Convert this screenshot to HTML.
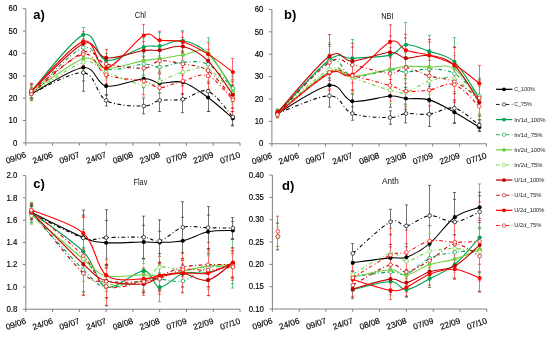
<!DOCTYPE html>
<html><head><meta charset="utf-8"><title>Figure</title>
<style>html,body{margin:0;padding:0;background:#fff}svg{display:block}</style></head>
<body>
<svg width="550" height="339" viewBox="0 0 550 339" font-family="'Liberation Sans', sans-serif">
<rect width="550" height="339" fill="#fff"/>
<g stroke="#808080" stroke-width="1" fill="none">
<path d="M25.8 8.7V142.9"/>
<path d="M25.8 142.9H240"/>
<path d="M22.8 142.9H25.8"/>
<path d="M22.8 120.53H25.8"/>
<path d="M22.8 98.17H25.8"/>
<path d="M22.8 75.8H25.8"/>
<path d="M22.8 53.43H25.8"/>
<path d="M22.8 31.07H25.8"/>
<path d="M22.8 8.7H25.8"/>
<path d="M25.8 142.9V145.7"/>
<path d="M52.58 142.9V145.7"/>
<path d="M79.35 142.9V145.7"/>
<path d="M106.12 142.9V145.7"/>
<path d="M132.9 142.9V145.7"/>
<path d="M159.68 142.9V145.7"/>
<path d="M186.45 142.9V145.7"/>
<path d="M213.23 142.9V145.7"/>
<path d="M240 142.9V145.7"/>
</g>
<g font-size="8.3" fill="#000" stroke="#000" stroke-width="0.15" text-anchor="end">
<text x="17.3" y="145.6" textLength="4.36" lengthAdjust="spacingAndGlyphs">0</text>
<text x="17.3" y="123.23" textLength="8.72" lengthAdjust="spacingAndGlyphs">10</text>
<text x="17.3" y="100.87" textLength="8.72" lengthAdjust="spacingAndGlyphs">20</text>
<text x="17.3" y="78.5" textLength="8.72" lengthAdjust="spacingAndGlyphs">30</text>
<text x="17.3" y="56.13" textLength="8.72" lengthAdjust="spacingAndGlyphs">40</text>
<text x="17.3" y="33.77" textLength="8.72" lengthAdjust="spacingAndGlyphs">50</text>
<text x="17.3" y="11.4" textLength="8.72" lengthAdjust="spacingAndGlyphs">60</text>
</g>
<g font-size="8.3" fill="#000" stroke="#000" stroke-width="0.15" text-anchor="end">
<text transform="translate(26.6 157) rotate(-19)" textLength="20.8" lengthAdjust="spacingAndGlyphs">09/06</text>
<text transform="translate(53.38 157) rotate(-19)" textLength="20.8" lengthAdjust="spacingAndGlyphs">24/06</text>
<text transform="translate(80.15 157) rotate(-19)" textLength="20.8" lengthAdjust="spacingAndGlyphs">09/07</text>
<text transform="translate(106.92 157) rotate(-19)" textLength="20.8" lengthAdjust="spacingAndGlyphs">24/07</text>
<text transform="translate(133.7 157) rotate(-19)" textLength="20.8" lengthAdjust="spacingAndGlyphs">08/08</text>
<text transform="translate(160.48 157) rotate(-19)" textLength="20.8" lengthAdjust="spacingAndGlyphs">23/08</text>
<text transform="translate(187.25 157) rotate(-19)" textLength="20.8" lengthAdjust="spacingAndGlyphs">07/09</text>
<text transform="translate(214.03 157) rotate(-19)" textLength="20.8" lengthAdjust="spacingAndGlyphs">22/09</text>
<text transform="translate(240.8 157) rotate(-19)" textLength="20.8" lengthAdjust="spacingAndGlyphs">07/10</text>
</g>
<text x="140.4" y="18.3" font-size="8.4" text-anchor="middle" fill="#111" textLength="11.1" lengthAdjust="spacingAndGlyphs">Chl</text>
<text x="33.3" y="18.6" font-size="13" font-weight="bold" fill="#000">a)</text>
<path d="M31.5 99.28V100.63M31.5 98.84V99.28M29.9 84.75H33.1M29.9 98.17H33.1M29.9 87.21H33.1M29.9 100.63H33.1" stroke="#c00000" stroke-width="0.7" stroke-opacity="0.85" fill="none"/>
<path d="M31.5 98.39V98.84M31.5 98.17V98.39M31.5 97.72V98.17M31.5 89.44V97.72M31.5 89.22V89.44M31.5 88.1V89.22M31.5 87.21V88.1M31.5 86.98V87.21M31.5 84.75V86.98M31.5 84.3V84.75M31.5 83.18V84.3M29.9 83.18H33.1M29.9 98.84H33.1M29.9 84.3H33.1M29.9 97.72H33.1" stroke="#ff0000" stroke-width="0.7" stroke-opacity="0.85" fill="none"/>
<path d="M29.9 89.44H33.1M29.9 98.39H33.1M29.9 89.22H33.1M29.9 98.17H33.1" stroke="#303030" stroke-width="0.8" stroke-opacity="0.85" fill="none"/>
<path d="M29.9 84.75H33.1M29.9 98.17H33.1M29.9 88.1H33.1M29.9 99.28H33.1" stroke="#00a050" stroke-width="0.7" stroke-opacity="0.85" fill="none"/>
<path d="M29.9 86.98H33.1M29.9 98.17H33.1M29.9 88.1H33.1M29.9 99.28H33.1" stroke="#70d040" stroke-width="0.7" stroke-opacity="0.85" fill="none"/>
<path d="M83.5 80.94V91.23M83.5 71.33V80.94M81.9 54.1H85.1M81.9 80.94H85.1M81.9 54.1H85.1M81.9 91.23H85.1" stroke="#303030" stroke-width="0.8" stroke-opacity="0.85" fill="none"/>
<path d="M83.5 67.75V71.33M83.5 65.51V67.75M81.9 49.85H85.1M81.9 67.75H85.1M81.9 53.43H85.1M81.9 71.33H85.1" stroke="#70d040" stroke-width="0.7" stroke-opacity="0.85" fill="none"/>
<path d="M83.5 61.26V65.51M83.5 56.56V61.26M83.5 54.1V56.56M83.5 53.43V54.1M83.5 52.76V53.43M83.5 50.97V52.76M83.5 49.85V50.97M83.5 43.37V49.85M83.5 43.14V43.37M83.5 42.25V43.14M83.5 38.67V42.25M83.5 34.87V38.67M83.5 31.74V34.87M81.9 31.74H85.1M81.9 50.97H85.1M81.9 43.14H85.1M81.9 65.51H85.1" stroke="#ff0000" stroke-width="0.7" stroke-opacity="0.85" fill="none"/>
<path d="M83.5 27.49V31.74M81.9 27.49H85.1M81.9 42.25H85.1M81.9 38.67H85.1M81.9 56.56H85.1" stroke="#00a050" stroke-width="0.7" stroke-opacity="0.85" fill="none"/>
<path d="M81.9 34.87H85.1M81.9 52.76H85.1M81.9 43.37H85.1M81.9 61.26H85.1" stroke="#c00000" stroke-width="0.7" stroke-opacity="0.85" fill="none"/>
<path d="M106.5 95.04V106M106.5 94.81V95.04M106.5 83.63V94.81M104.9 77.14H108.1M104.9 95.04H108.1M104.9 94.81H108.1M104.9 106H108.1" stroke="#303030" stroke-width="0.8" stroke-opacity="0.85" fill="none"/>
<path d="M106.5 78.93V83.63M106.5 77.14V78.93M106.5 75.8V77.14M106.5 75.13V75.8M106.5 74.91V75.13M106.5 70.66V74.91M106.5 67.08V70.66M106.5 66.41V67.08M106.5 65.73V66.41M106.5 65.51V65.73M106.5 62.38V65.51M106.5 61.71V62.38M106.5 61.49V61.71M104.9 61.49H108.1M104.9 74.91H108.1M104.9 65.73H108.1M104.9 83.63H108.1" stroke="#ff0000" stroke-width="0.7" stroke-opacity="0.85" fill="none"/>
<path d="M106.5 57.24V61.49M106.5 53.66V57.24M106.5 49.41V53.66M104.9 49.41H108.1M104.9 66.41H108.1M104.9 57.24H108.1M104.9 70.66H108.1" stroke="#c00000" stroke-width="0.7" stroke-opacity="0.85" fill="none"/>
<path d="M104.9 53.66H108.1M104.9 67.08H108.1M104.9 62.38H108.1M104.9 75.8H108.1" stroke="#00a050" stroke-width="0.7" stroke-opacity="0.85" fill="none"/>
<path d="M104.9 61.71H108.1M104.9 75.13H108.1M104.9 65.51H108.1M104.9 78.93H108.1" stroke="#70d040" stroke-width="0.7" stroke-opacity="0.85" fill="none"/>
<path d="M143.5 98.17V113.82M141.9 69.76H145.1M141.9 87.65H145.1M141.9 98.17H145.1M141.9 113.82H145.1" stroke="#303030" stroke-width="0.8" stroke-opacity="0.85" fill="none"/>
<path d="M143.5 94.59V96.6M141.9 51.64H145.1M141.9 69.54H145.1M141.9 74.23H145.1M141.9 96.6H145.1" stroke="#70d040" stroke-width="0.7" stroke-opacity="0.85" fill="none"/>
<path d="M143.5 87.65V94.59M143.5 79.38V87.65M143.5 75.35V79.38M143.5 74.23V75.35M143.5 69.76V74.23M143.5 69.54V69.76M143.5 67.75V69.54M143.5 41.58V46.72M143.5 38V41.58M143.5 24.36V38M141.9 24.36H145.1M141.9 46.72H145.1M141.9 67.75H145.1M141.9 94.59H145.1" stroke="#ff0000" stroke-width="0.7" stroke-opacity="0.85" fill="none"/>
<path d="M143.5 59.47V67.75M143.5 57.01V59.47M143.5 55.89V57.01M143.5 52.99V55.89M143.5 51.64V52.99M143.5 46.72V51.64M141.9 41.58H145.1M141.9 59.47H145.1M141.9 57.01H145.1M141.9 79.38H145.1" stroke="#c00000" stroke-width="0.7" stroke-opacity="0.85" fill="none"/>
<path d="M141.9 38H145.1M141.9 55.89H145.1M141.9 52.99H145.1M141.9 75.35H145.1" stroke="#00a050" stroke-width="0.7" stroke-opacity="0.85" fill="none"/>
<path d="M159.5 101.07V111.59M157.9 73.12H161.1M157.9 93.25H161.1M157.9 89.22H161.1M157.9 111.59H161.1" stroke="#303030" stroke-width="0.8" stroke-opacity="0.85" fill="none"/>
<path d="M159.5 93.25V101.07M159.5 92.57V93.25M159.5 89.22V92.57M159.5 78.26V89.22M159.5 74.23V78.26M159.5 41.36V49.18M159.5 32.63V41.36M159.5 31.29V32.63M157.9 31.29H161.1M157.9 49.18H161.1M157.9 74.23H161.1M157.9 101.07H161.1" stroke="#ff0000" stroke-width="0.7" stroke-opacity="0.85" fill="none"/>
<path d="M159.5 73.12V74.23M159.5 72V73.12M157.9 49.85H161.1M157.9 67.75H161.1M157.9 70.21H161.1M157.9 92.57H161.1" stroke="#70d040" stroke-width="0.7" stroke-opacity="0.85" fill="none"/>
<path d="M159.5 70.21V72M159.5 67.75V70.21M159.5 59.47V67.75M159.5 59.25V59.47M159.5 55.89V59.25M159.5 49.85V55.89M159.5 49.63V49.85M159.5 49.18V49.63M157.9 41.36H161.1M157.9 59.25H161.1M157.9 49.63H161.1M157.9 72H161.1" stroke="#c00000" stroke-width="0.7" stroke-opacity="0.85" fill="none"/>
<path d="M157.9 32.63H161.1M157.9 59.47H161.1M157.9 55.89H161.1M157.9 78.26H161.1" stroke="#00a050" stroke-width="0.7" stroke-opacity="0.85" fill="none"/>
<path d="M182.5 94.36V112.7M180.9 71.1H184.1M180.9 93.47H184.1M180.9 85.87H184.1M180.9 112.7H184.1" stroke="#303030" stroke-width="0.8" stroke-opacity="0.85" fill="none"/>
<path d="M182.5 93.47V94.36M182.5 85.87V93.47M182.5 83.18V85.87M182.5 75.13V83.18M182.5 73.56V75.13M182.5 71.1V73.56M182.5 67.52V71.1M182.5 51.2V52.09M182.5 50.75V51.2M182.5 46.05V50.75M182.5 37.55V46.05M182.5 31.96V37.55M180.9 31.96H184.1M180.9 52.09H184.1M180.9 67.52H184.1M180.9 94.36H184.1" stroke="#ff0000" stroke-width="0.7" stroke-opacity="0.85" fill="none"/>
<path d="M182.5 63.95V67.52M182.5 60.81V63.95M182.5 55.45V60.81M182.5 52.76V55.45M182.5 52.09V52.76M180.9 37.55H184.1M180.9 55.45H184.1M180.9 52.76H184.1M180.9 75.13H184.1" stroke="#c00000" stroke-width="0.7" stroke-opacity="0.85" fill="none"/>
<path d="M182.5 30.62V31.96M180.9 30.62H184.1M180.9 50.75H184.1M180.9 51.2H184.1M180.9 73.56H184.1" stroke="#00a050" stroke-width="0.7" stroke-opacity="0.85" fill="none"/>
<path d="M180.9 46.05H184.1M180.9 63.95H184.1M180.9 60.81H184.1M180.9 83.18H184.1" stroke="#70d040" stroke-width="0.7" stroke-opacity="0.85" fill="none"/>
<path d="M208.5 111.36V111.59M208.5 89.22V111.36M206.9 83.4H210.1M206.9 111.59H210.1M206.9 71.1H210.1M206.9 111.36H210.1" stroke="#303030" stroke-width="0.8" stroke-opacity="0.85" fill="none"/>
<path d="M208.5 83.4V89.22M208.5 81.84V83.4M208.5 80.27V81.84M208.5 75.58V80.27M208.5 72V75.58M208.5 71.1V72M208.5 69.09V71.1M208.5 65.29V69.09M208.5 63.95V65.29M208.5 62.38V63.95M208.5 59.47V62.38M208.5 57.91V59.47M208.5 53.21V57.91M208.5 49.63V53.21M208.5 42.92V49.63M206.9 42.92H210.1M206.9 65.29H210.1M206.9 62.38H210.1M206.9 89.22H210.1" stroke="#ff0000" stroke-width="0.7" stroke-opacity="0.85" fill="none"/>
<path d="M208.5 41.58V42.92M206.9 41.58H210.1M206.9 63.95H210.1M206.9 57.91H210.1M206.9 80.27H210.1" stroke="#70d040" stroke-width="0.7" stroke-opacity="0.85" fill="none"/>
<path d="M208.5 37.78V41.58M206.9 37.78H210.1M206.9 69.09H210.1M206.9 53.21H210.1M206.9 75.58H210.1" stroke="#00a050" stroke-width="0.7" stroke-opacity="0.85" fill="none"/>
<path d="M206.9 49.63H210.1M206.9 72H210.1M206.9 59.47H210.1M206.9 81.84H210.1" stroke="#c00000" stroke-width="0.7" stroke-opacity="0.85" fill="none"/>
<path d="M232.5 125.01V125.9M232.5 119.86V125.01M230.9 111.59H234.1M230.9 125.01H234.1M230.9 108.01H234.1M230.9 125.9H234.1" stroke="#303030" stroke-width="0.8" stroke-opacity="0.85" fill="none"/>
<path d="M232.5 111.59V119.86M232.5 108.23V111.59M232.5 108.01V108.23M232.5 104.88V108.01M232.5 102.64V104.88M232.5 101.97V102.64M232.5 99.51V101.97M232.5 85.42V99.51M232.5 84.75V85.42M232.5 82.51V84.75M232.5 81.39V82.51M232.5 80.27V81.39M232.5 79.6V80.27M232.5 77.14V79.6M232.5 75.13V77.14M232.5 58.58V75.13M230.9 58.58H234.1M230.9 85.42H234.1M230.9 79.6H234.1M230.9 119.86H234.1" stroke="#ff0000" stroke-width="0.7" stroke-opacity="0.85" fill="none"/>
<path d="M230.9 75.13H234.1M230.9 101.97H234.1M230.9 77.14H234.1M230.9 99.51H234.1" stroke="#00a050" stroke-width="0.7" stroke-opacity="0.85" fill="none"/>
<path d="M230.9 80.27H234.1M230.9 102.64H234.1M230.9 82.51H234.1M230.9 104.88H234.1" stroke="#70d040" stroke-width="0.7" stroke-opacity="0.85" fill="none"/>
<path d="M230.9 81.39H234.1M230.9 108.23H234.1M230.9 84.75H234.1M230.9 111.59H234.1" stroke="#c00000" stroke-width="0.7" stroke-opacity="0.85" fill="none"/>
<path d="M31.33 93.92C39.99 89.52 70.81 68.83 83.28 67.52C95.74 66.22 96.04 84.22 106.12 86.09C116.21 87.95 134.86 79.19 143.79 78.71C152.71 78.22 153.16 82.58 159.68 83.18C166.19 83.78 174.82 79.9 182.88 82.29C190.94 84.67 199.72 91.49 208.05 97.5C216.38 103.5 228.72 114.83 232.86 118.3" stroke="#000000" stroke-width="1.1" fill="none" stroke-linejoin="round"/>
<circle cx="31.33" cy="93.92" r="2.05" fill="#000000"/>
<circle cx="83.28" cy="67.52" r="2.05" fill="#000000"/>
<circle cx="106.12" cy="86.09" r="2.05" fill="#000000"/>
<circle cx="143.79" cy="78.71" r="2.05" fill="#000000"/>
<circle cx="159.68" cy="83.18" r="2.05" fill="#000000"/>
<circle cx="182.88" cy="82.29" r="2.05" fill="#000000"/>
<circle cx="208.05" cy="97.5" r="2.05" fill="#000000"/>
<circle cx="232.86" cy="118.3" r="2.05" fill="#000000"/>
<path d="M31.33 93.69C39.99 90.19 70.81 71.55 83.28 72.67C95.74 73.79 96.04 94.85 106.12 100.4C116.21 105.96 134.86 106 143.79 106C152.71 106 153.16 101.52 159.68 100.4C166.19 99.28 174.82 100.81 182.88 99.28C190.94 97.76 199.72 88.29 208.05 91.23C216.38 94.18 228.72 112.67 232.86 116.95" stroke="#000000" stroke-width="1.1" fill="none" stroke-dasharray="3.7 2.5 0.9 2.5"/>
<circle cx="31.33" cy="93.69" r="1.85" fill="#fff" stroke="#000000" stroke-width="0.7"/>
<circle cx="83.28" cy="72.67" r="1.85" fill="#fff" stroke="#000000" stroke-width="0.7"/>
<circle cx="106.12" cy="100.4" r="1.85" fill="#fff" stroke="#000000" stroke-width="0.7"/>
<circle cx="143.79" cy="106" r="1.85" fill="#fff" stroke="#000000" stroke-width="0.7"/>
<circle cx="159.68" cy="100.4" r="1.85" fill="#fff" stroke="#000000" stroke-width="0.7"/>
<circle cx="182.88" cy="99.28" r="1.85" fill="#fff" stroke="#000000" stroke-width="0.7"/>
<circle cx="208.05" cy="91.23" r="1.85" fill="#fff" stroke="#000000" stroke-width="0.7"/>
<circle cx="232.86" cy="116.95" r="1.85" fill="#fff" stroke="#000000" stroke-width="0.7"/>
<path d="M31.33 91.46C39.99 82.03 70.81 40.05 83.28 34.87C95.74 29.69 96.04 58.35 106.12 60.37C116.21 62.38 134.86 49.33 143.79 46.95C152.71 44.56 153.16 47.1 159.68 46.05C166.19 45.01 174.82 39.45 182.88 40.68C190.94 41.91 199.72 45.46 208.05 53.43C216.38 61.41 228.72 82.7 232.86 88.55" stroke="#00a050" stroke-width="1.1" fill="none" stroke-linejoin="round"/>
<circle cx="31.33" cy="91.46" r="2.05" fill="#00a050"/>
<circle cx="83.28" cy="34.87" r="2.05" fill="#00a050"/>
<circle cx="106.12" cy="60.37" r="2.05" fill="#00a050"/>
<circle cx="143.79" cy="46.95" r="2.05" fill="#00a050"/>
<circle cx="159.68" cy="46.05" r="2.05" fill="#00a050"/>
<circle cx="182.88" cy="40.68" r="2.05" fill="#00a050"/>
<circle cx="208.05" cy="53.43" r="2.05" fill="#00a050"/>
<circle cx="232.86" cy="88.55" r="2.05" fill="#00a050"/>
<path d="M31.33 93.69C39.99 86.01 70.81 51.72 83.28 47.62C95.74 43.52 96.04 66.33 106.12 69.09C116.21 71.85 134.86 64.5 143.79 64.17C152.71 63.83 153.16 67.38 159.68 67.08C166.19 66.78 174.82 62.83 182.88 62.38C190.94 61.93 199.72 60.07 208.05 64.39C216.38 68.72 228.72 84.34 232.86 88.33" stroke="#00a050" stroke-width="1.1" fill="none" stroke-dasharray="3.7 2.5 0.9 2.5"/>
<circle cx="31.33" cy="93.69" r="1.85" fill="#fff" stroke="#00a050" stroke-width="0.7"/>
<circle cx="83.28" cy="47.62" r="1.85" fill="#fff" stroke="#00a050" stroke-width="0.7"/>
<circle cx="106.12" cy="69.09" r="1.85" fill="#fff" stroke="#00a050" stroke-width="0.7"/>
<circle cx="143.79" cy="64.17" r="1.85" fill="#fff" stroke="#00a050" stroke-width="0.7"/>
<circle cx="159.68" cy="67.08" r="1.85" fill="#fff" stroke="#00a050" stroke-width="0.7"/>
<circle cx="182.88" cy="62.38" r="1.85" fill="#fff" stroke="#00a050" stroke-width="0.7"/>
<circle cx="208.05" cy="64.39" r="1.85" fill="#fff" stroke="#00a050" stroke-width="0.7"/>
<circle cx="232.86" cy="88.33" r="1.85" fill="#fff" stroke="#00a050" stroke-width="0.7"/>
<path d="M31.33 92.57C39.99 86.95 70.81 62.83 83.28 58.8C95.74 54.78 96.04 68.12 106.12 68.42C116.21 68.72 134.86 62.19 143.79 60.59C152.71 58.99 153.16 59.73 159.68 58.8C166.19 57.87 174.82 56.01 182.88 55C190.94 53.99 199.72 46.69 208.05 52.76C216.38 58.84 228.72 85.01 232.86 91.46" stroke="#70d040" stroke-width="1.1" fill="none" stroke-linejoin="round"/>
<circle cx="31.33" cy="92.57" r="2.05" fill="#70d040"/>
<circle cx="83.28" cy="58.8" r="2.05" fill="#70d040"/>
<circle cx="106.12" cy="68.42" r="2.05" fill="#70d040"/>
<circle cx="143.79" cy="60.59" r="2.05" fill="#70d040"/>
<circle cx="159.68" cy="58.8" r="2.05" fill="#70d040"/>
<circle cx="182.88" cy="55" r="2.05" fill="#70d040"/>
<circle cx="208.05" cy="52.76" r="2.05" fill="#70d040"/>
<circle cx="232.86" cy="91.46" r="2.05" fill="#70d040"/>
<path d="M31.33 93.69C39.99 88.47 70.81 65.96 83.28 62.38C95.74 58.8 96.04 68.38 106.12 72.22C116.21 76.06 134.86 83.89 143.79 85.42C152.71 86.95 153.16 83.63 159.68 81.39C166.19 79.16 174.82 74.05 182.88 72C190.94 69.95 199.72 65.47 208.05 69.09C216.38 72.71 228.72 89.59 232.86 93.69" stroke="#70d040" stroke-width="1.1" fill="none" stroke-dasharray="3.7 2.5 0.9 2.5"/>
<circle cx="31.33" cy="93.69" r="1.85" fill="#fff" stroke="#70d040" stroke-width="0.7"/>
<circle cx="83.28" cy="62.38" r="1.85" fill="#fff" stroke="#70d040" stroke-width="0.7"/>
<circle cx="106.12" cy="72.22" r="1.85" fill="#fff" stroke="#70d040" stroke-width="0.7"/>
<circle cx="143.79" cy="85.42" r="1.85" fill="#fff" stroke="#70d040" stroke-width="0.7"/>
<circle cx="159.68" cy="81.39" r="1.85" fill="#fff" stroke="#70d040" stroke-width="0.7"/>
<circle cx="182.88" cy="72" r="1.85" fill="#fff" stroke="#70d040" stroke-width="0.7"/>
<circle cx="208.05" cy="69.09" r="1.85" fill="#fff" stroke="#70d040" stroke-width="0.7"/>
<circle cx="232.86" cy="93.69" r="1.85" fill="#fff" stroke="#70d040" stroke-width="0.7"/>
<path d="M31.33 91.46C39.99 83.52 70.81 49.41 83.28 43.82C95.74 38.22 96.04 56.79 106.12 57.91C116.21 59.02 134.86 51.79 143.79 50.53C152.71 49.26 153.16 50.97 159.68 50.3C166.19 49.63 174.82 44.75 182.88 46.5C190.94 48.25 199.72 52.76 208.05 60.81C216.38 68.87 228.72 89.15 232.86 94.81" stroke="#c00000" stroke-width="1.1" fill="none" stroke-linejoin="round"/>
<circle cx="31.33" cy="91.46" r="2.05" fill="#c00000"/>
<circle cx="83.28" cy="43.82" r="2.05" fill="#c00000"/>
<circle cx="106.12" cy="57.91" r="2.05" fill="#c00000"/>
<circle cx="143.79" cy="50.53" r="2.05" fill="#c00000"/>
<circle cx="159.68" cy="50.3" r="2.05" fill="#c00000"/>
<circle cx="182.88" cy="46.5" r="2.05" fill="#c00000"/>
<circle cx="208.05" cy="60.81" r="2.05" fill="#c00000"/>
<circle cx="232.86" cy="94.81" r="2.05" fill="#c00000"/>
<path d="M31.33 93.92C39.99 86.98 70.81 57.31 83.28 52.31C95.74 47.32 96.04 61.3 106.12 63.95C116.21 66.59 134.86 68.72 143.79 68.2C152.71 67.67 153.16 61.52 159.68 60.81C166.19 60.11 174.82 62.31 182.88 63.95C190.94 65.59 199.72 64.95 208.05 70.66C216.38 76.36 228.72 93.58 232.86 98.17" stroke="#c00000" stroke-width="1.1" fill="none" stroke-dasharray="3.7 2.5 0.9 2.5"/>
<circle cx="31.33" cy="93.92" r="1.85" fill="#fff" stroke="#c00000" stroke-width="0.7"/>
<circle cx="83.28" cy="52.31" r="1.85" fill="#fff" stroke="#c00000" stroke-width="0.7"/>
<circle cx="106.12" cy="63.95" r="1.85" fill="#fff" stroke="#c00000" stroke-width="0.7"/>
<circle cx="143.79" cy="68.2" r="1.85" fill="#fff" stroke="#c00000" stroke-width="0.7"/>
<circle cx="159.68" cy="60.81" r="1.85" fill="#fff" stroke="#c00000" stroke-width="0.7"/>
<circle cx="182.88" cy="63.95" r="1.85" fill="#fff" stroke="#c00000" stroke-width="0.7"/>
<circle cx="208.05" cy="70.66" r="1.85" fill="#fff" stroke="#c00000" stroke-width="0.7"/>
<circle cx="232.86" cy="98.17" r="1.85" fill="#fff" stroke="#c00000" stroke-width="0.7"/>
<path d="M31.33 91.01C39.99 82.73 70.81 45.16 83.28 41.36C95.74 37.55 96.04 69.16 106.12 68.2C116.21 67.23 134.86 40.2 143.79 35.54C152.71 30.88 153.16 39.16 159.68 40.24C166.19 41.32 174.82 39.72 182.88 42.03C190.94 44.34 199.72 49.11 208.05 54.1C216.38 59.1 228.72 69.02 232.86 72" stroke="#ff0000" stroke-width="1.1" fill="none" stroke-linejoin="round"/>
<circle cx="31.33" cy="91.01" r="2.05" fill="#ff0000"/>
<circle cx="83.28" cy="41.36" r="2.05" fill="#ff0000"/>
<circle cx="106.12" cy="68.2" r="2.05" fill="#ff0000"/>
<circle cx="143.79" cy="35.54" r="2.05" fill="#ff0000"/>
<circle cx="159.68" cy="40.24" r="2.05" fill="#ff0000"/>
<circle cx="182.88" cy="42.03" r="2.05" fill="#ff0000"/>
<circle cx="208.05" cy="54.1" r="2.05" fill="#ff0000"/>
<circle cx="232.86" cy="72" r="2.05" fill="#ff0000"/>
<path d="M31.33 91.01C39.99 84.9 70.81 57.05 83.28 54.33C95.74 51.61 96.04 70.21 106.12 74.68C116.21 79.16 134.86 79.01 143.79 81.17C152.71 83.33 153.16 87.69 159.68 87.65C166.19 87.62 174.82 82.92 182.88 80.94C190.94 78.97 199.72 72.67 208.05 75.8C216.38 78.93 228.72 95.74 232.86 99.73" stroke="#ff0000" stroke-width="1.1" fill="none" stroke-dasharray="3.7 2.5 0.9 2.5"/>
<circle cx="31.33" cy="91.01" r="1.85" fill="#fff" stroke="#ff0000" stroke-width="0.7"/>
<circle cx="83.28" cy="54.33" r="1.85" fill="#fff" stroke="#ff0000" stroke-width="0.7"/>
<circle cx="106.12" cy="74.68" r="1.85" fill="#fff" stroke="#ff0000" stroke-width="0.7"/>
<circle cx="143.79" cy="81.17" r="1.85" fill="#fff" stroke="#ff0000" stroke-width="0.7"/>
<circle cx="159.68" cy="87.65" r="1.85" fill="#fff" stroke="#ff0000" stroke-width="0.7"/>
<circle cx="182.88" cy="80.94" r="1.85" fill="#fff" stroke="#ff0000" stroke-width="0.7"/>
<circle cx="208.05" cy="75.8" r="1.85" fill="#fff" stroke="#ff0000" stroke-width="0.7"/>
<circle cx="232.86" cy="99.73" r="1.85" fill="#fff" stroke="#ff0000" stroke-width="0.7"/>
<g stroke="#808080" stroke-width="1" fill="none">
<path d="M271.9 9.45V143.75"/>
<path d="M271.9 143.75H486.4"/>
<path d="M268.9 143.75H271.9"/>
<path d="M268.9 121.37H271.9"/>
<path d="M268.9 98.98H271.9"/>
<path d="M268.9 76.6H271.9"/>
<path d="M268.9 54.22H271.9"/>
<path d="M268.9 31.83H271.9"/>
<path d="M268.9 9.45H271.9"/>
<path d="M271.9 143.75V146.55"/>
<path d="M298.71 143.75V146.55"/>
<path d="M325.52 143.75V146.55"/>
<path d="M352.34 143.75V146.55"/>
<path d="M379.15 143.75V146.55"/>
<path d="M405.96 143.75V146.55"/>
<path d="M432.77 143.75V146.55"/>
<path d="M459.59 143.75V146.55"/>
<path d="M486.4 143.75V146.55"/>
</g>
<g font-size="8.3" fill="#000" stroke="#000" stroke-width="0.15" text-anchor="end">
<text x="263.4" y="146.45" textLength="4.36" lengthAdjust="spacingAndGlyphs">0</text>
<text x="263.4" y="124.07" textLength="8.72" lengthAdjust="spacingAndGlyphs">10</text>
<text x="263.4" y="101.68" textLength="8.72" lengthAdjust="spacingAndGlyphs">20</text>
<text x="263.4" y="79.3" textLength="8.72" lengthAdjust="spacingAndGlyphs">30</text>
<text x="263.4" y="56.92" textLength="8.72" lengthAdjust="spacingAndGlyphs">40</text>
<text x="263.4" y="34.53" textLength="8.72" lengthAdjust="spacingAndGlyphs">50</text>
<text x="263.4" y="12.15" textLength="8.72" lengthAdjust="spacingAndGlyphs">60</text>
</g>
<g font-size="8.3" fill="#000" stroke="#000" stroke-width="0.15" text-anchor="end">
<text transform="translate(272.7 157.85) rotate(-19)" textLength="20.8" lengthAdjust="spacingAndGlyphs">09/06</text>
<text transform="translate(299.51 157.85) rotate(-19)" textLength="20.8" lengthAdjust="spacingAndGlyphs">24/06</text>
<text transform="translate(326.32 157.85) rotate(-19)" textLength="20.8" lengthAdjust="spacingAndGlyphs">09/07</text>
<text transform="translate(353.14 157.85) rotate(-19)" textLength="20.8" lengthAdjust="spacingAndGlyphs">24/07</text>
<text transform="translate(379.95 157.85) rotate(-19)" textLength="20.8" lengthAdjust="spacingAndGlyphs">08/08</text>
<text transform="translate(406.76 157.85) rotate(-19)" textLength="20.8" lengthAdjust="spacingAndGlyphs">23/08</text>
<text transform="translate(433.57 157.85) rotate(-19)" textLength="20.8" lengthAdjust="spacingAndGlyphs">07/09</text>
<text transform="translate(460.39 157.85) rotate(-19)" textLength="20.8" lengthAdjust="spacingAndGlyphs">22/09</text>
<text transform="translate(487.2 157.85) rotate(-19)" textLength="20.8" lengthAdjust="spacingAndGlyphs">07/10</text>
</g>
<text x="387.4" y="18.6" font-size="8.4" text-anchor="middle" fill="#111" textLength="12.4" lengthAdjust="spacingAndGlyphs">NBI</text>
<text x="284" y="19.4" font-size="13" font-weight="bold" fill="#000">b)</text>
<path d="M277.5 116.89V118.01M277.5 115.77V116.89M277.5 111.29V115.77M277.5 110.17V111.29M275.9 110.17H279.1M275.9 116.89H279.1M275.9 111.29H279.1M275.9 118.01H279.1" stroke="#ff0000" stroke-width="0.7" stroke-opacity="0.85" fill="none"/>
<path d="M277.5 109.06V110.17M275.9 109.06H279.1M275.9 115.77H279.1M275.9 110.17H279.1M275.9 116.89H279.1" stroke="#c00000" stroke-width="0.7" stroke-opacity="0.85" fill="none"/>
<path d="M275.9 111.29H279.1M275.9 115.77H279.1M275.9 111.29H279.1M275.9 115.77H279.1" stroke="#303030" stroke-width="0.8" stroke-opacity="0.85" fill="none"/>
<path d="M275.9 110.17H279.1M275.9 116.89H279.1M275.9 110.17H279.1M275.9 116.89H279.1" stroke="#00a050" stroke-width="0.7" stroke-opacity="0.85" fill="none"/>
<path d="M275.9 110.17H279.1M275.9 116.89H279.1M275.9 110.17H279.1M275.9 116.89H279.1" stroke="#70d040" stroke-width="0.7" stroke-opacity="0.85" fill="none"/>
<path d="M329.5 96.52V107.04M329.5 90.25V96.52M327.9 74.14H331.1M327.9 96.52H331.1M327.9 84.66H331.1M327.9 107.04H331.1" stroke="#303030" stroke-width="0.8" stroke-opacity="0.85" fill="none"/>
<path d="M329.5 88.91V90.25M329.5 85.11V88.91M329.5 84.66V85.11M329.5 80.41V84.66M329.5 78.84V80.41M329.5 77.94V78.84M329.5 74.14V77.94M329.5 73.24V74.14M329.5 58.25V73.24M329.5 57.57V58.25M329.5 54.44V57.57M327.9 57.57H331.1M327.9 88.91H331.1M327.9 54.44H331.1M327.9 90.25H331.1" stroke="#ff0000" stroke-width="0.7" stroke-opacity="0.85" fill="none"/>
<path d="M329.5 53.77V54.44M329.5 46.38V53.77M329.5 44.59V46.38M329.5 43.02V44.59M329.5 34.52V43.02M327.9 34.52H331.1M327.9 77.94H331.1M327.9 44.59H331.1M327.9 80.41H331.1" stroke="#c00000" stroke-width="0.7" stroke-opacity="0.85" fill="none"/>
<path d="M327.9 46.38H331.1M327.9 73.24H331.1M327.9 43.02H331.1M327.9 78.84H331.1" stroke="#00a050" stroke-width="0.7" stroke-opacity="0.85" fill="none"/>
<path d="M327.9 58.25H331.1M327.9 85.11H331.1M327.9 53.77H331.1M327.9 85.11H331.1" stroke="#70d040" stroke-width="0.7" stroke-opacity="0.85" fill="none"/>
<path d="M352.5 112.41V120.25M352.5 106.82V112.41M352.5 94.51V106.82M350.9 90.03H354.1M350.9 112.41H354.1M350.9 106.82H354.1M350.9 120.25H354.1" stroke="#303030" stroke-width="0.8" stroke-opacity="0.85" fill="none"/>
<path d="M352.5 93.61V94.51M352.5 39.44V43.25M350.9 39.44H354.1M350.9 77.05H354.1M350.9 58.69H354.1M350.9 94.51H354.1" stroke="#00a050" stroke-width="0.7" stroke-opacity="0.85" fill="none"/>
<path d="M352.5 93.39V93.61M352.5 92.27V93.39M352.5 90.25V92.27M352.5 90.03V90.25M352.5 82.87V90.03M352.5 79.06V82.87M352.5 77.05V79.06M352.5 62.05V77.05M352.5 60.93V62.05M352.5 58.92V60.93M352.5 58.69V58.92M352.5 57.8V58.69M350.9 58.92H354.1M350.9 90.25H354.1M350.9 57.8H354.1M350.9 93.61H354.1" stroke="#ff0000" stroke-width="0.7" stroke-opacity="0.85" fill="none"/>
<path d="M352.5 47.05V57.8M352.5 43.25V47.05M350.9 43.25H354.1M350.9 79.06H354.1M350.9 47.05H354.1M350.9 82.87H354.1" stroke="#c00000" stroke-width="0.7" stroke-opacity="0.85" fill="none"/>
<path d="M350.9 60.93H354.1M350.9 92.27H354.1M350.9 62.05H354.1M350.9 93.39H354.1" stroke="#70d040" stroke-width="0.7" stroke-opacity="0.85" fill="none"/>
<path d="M390.5 110.85V124.28M390.5 103.68V107.27M388.9 84.88H392.1M388.9 107.27H392.1M388.9 110.85H392.1M388.9 124.28H392.1" stroke="#303030" stroke-width="0.8" stroke-opacity="0.85" fill="none"/>
<path d="M390.5 101.22V103.68M388.9 55.78H392.1M388.9 82.64H392.1M388.9 76.82H392.1M388.9 103.68H392.1" stroke="#70d040" stroke-width="0.7" stroke-opacity="0.85" fill="none"/>
<path d="M390.5 89.13V101.22M390.5 85.55V89.13M390.5 84.88V85.55M390.5 82.64V84.88M390.5 79.51V82.64M390.5 76.82V79.51M390.5 69.88V76.82M390.5 41.68V47.73M390.5 36.09V41.68M388.9 36.09H392.1M388.9 47.73H392.1M388.9 69.88H392.1M388.9 101.22H392.1" stroke="#ff0000" stroke-width="0.7" stroke-opacity="0.85" fill="none"/>
<path d="M390.5 68.54V69.88M390.5 57.8V68.54M390.5 55.78V57.8M390.5 54.22V55.78M390.5 47.73V54.22M390.5 24.89V36.09M388.9 24.89H392.1M388.9 79.51H392.1M388.9 57.8H392.1M388.9 89.13H392.1" stroke="#c00000" stroke-width="0.7" stroke-opacity="0.85" fill="none"/>
<path d="M388.9 41.68H392.1M388.9 68.54H392.1M388.9 54.22H392.1M388.9 85.55H392.1" stroke="#00a050" stroke-width="0.7" stroke-opacity="0.85" fill="none"/>
<path d="M405.5 109.73V122.93M405.5 106.82V109.73M403.9 87.34H407.1M403.9 109.73H407.1M403.9 104.13H407.1M403.9 122.93H407.1" stroke="#303030" stroke-width="0.8" stroke-opacity="0.85" fill="none"/>
<path d="M405.5 105.7V106.82M405.5 104.13V105.7M405.5 87.79V104.13M405.5 87.34V87.79M405.5 83.31V87.34M405.5 79.96V83.31M405.5 78.84V79.96M405.5 78.39V78.84M405.5 75.48V78.39M405.5 56.45V65.86M405.5 53.1V56.45M405.5 51.98V53.1M405.5 38.1V51.98M405.5 34.52V38.1M403.9 34.52H407.1M403.9 65.86H407.1M403.9 75.48H407.1M403.9 106.82H407.1" stroke="#ff0000" stroke-width="0.7" stroke-opacity="0.85" fill="none"/>
<path d="M405.5 67.2V75.48M405.5 65.86V67.2M403.9 38.1H407.1M403.9 78.39H407.1M403.9 51.98H407.1M403.9 83.31H407.1" stroke="#c00000" stroke-width="0.7" stroke-opacity="0.85" fill="none"/>
<path d="M405.5 22.43V34.52M403.9 22.43H407.1M403.9 67.2H407.1M403.9 56.45H407.1M403.9 87.79H407.1" stroke="#00a050" stroke-width="0.7" stroke-opacity="0.85" fill="none"/>
<path d="M403.9 53.1H407.1M403.9 79.96H407.1M403.9 78.84H407.1M403.9 105.7H407.1" stroke="#70d040" stroke-width="0.7" stroke-opacity="0.85" fill="none"/>
<path d="M429.5 113.31V126.51M429.5 105.7V113.31M427.9 86.45H431.1M427.9 113.31H431.1M427.9 101.89H431.1M427.9 126.51H431.1" stroke="#303030" stroke-width="0.8" stroke-opacity="0.85" fill="none"/>
<path d="M429.5 101.89V105.7M429.5 94.51V101.89M429.5 91.6V94.51M429.5 86.45V91.6M429.5 84.66V86.45M429.5 80.41V84.66M429.5 74.36V80.41M429.5 67.65V68.77M429.5 67.42V67.65M429.5 60.26V67.42M429.5 53.55V60.26M429.5 53.32V53.55M429.5 41.91V53.32M427.9 41.91H431.1M427.9 68.77H431.1M427.9 74.36H431.1M427.9 105.7H431.1" stroke="#ff0000" stroke-width="0.7" stroke-opacity="0.85" fill="none"/>
<path d="M429.5 71.23V74.36M429.5 68.77V71.23M429.5 39.44V41.91M427.9 39.44H431.1M427.9 71.23H431.1M427.9 60.26H431.1M427.9 91.6H431.1" stroke="#c00000" stroke-width="0.7" stroke-opacity="0.85" fill="none"/>
<path d="M429.5 35.19V39.44M427.9 35.19H431.1M427.9 67.42H431.1M427.9 53.32H431.1M427.9 84.66H431.1" stroke="#00a050" stroke-width="0.7" stroke-opacity="0.85" fill="none"/>
<path d="M427.9 53.55H431.1M427.9 80.41H431.1M427.9 67.65H431.1M427.9 94.51H431.1" stroke="#70d040" stroke-width="0.7" stroke-opacity="0.85" fill="none"/>
<path d="M454.5 122.71V123.38M454.5 102.56V122.71M452.9 101H456.1M452.9 123.38H456.1M452.9 93.61H456.1M452.9 122.71H456.1" stroke="#303030" stroke-width="0.8" stroke-opacity="0.85" fill="none"/>
<path d="M454.5 101V102.56M454.5 99.65V101M454.5 94.51V99.65M454.5 93.61V94.51M454.5 91.6V93.61M454.5 86V91.6M454.5 84.43V86M454.5 83.31V84.43M454.5 82.64V83.31M454.5 66.75V82.64M454.5 63.84V66.75M454.5 63.17V63.84M454.5 55.78V63.17M454.5 53.1V55.78M454.5 47.5V53.1M454.5 46.83V47.5M452.9 46.83H456.1M452.9 82.64H456.1M452.9 66.75H456.1M452.9 102.56H456.1" stroke="#ff0000" stroke-width="0.7" stroke-opacity="0.85" fill="none"/>
<path d="M454.5 37.65V46.83M452.9 37.65H456.1M452.9 86H456.1M452.9 55.78H456.1M452.9 91.6H456.1" stroke="#00a050" stroke-width="0.7" stroke-opacity="0.85" fill="none"/>
<path d="M452.9 53.1H456.1M452.9 84.43H456.1M452.9 63.17H456.1M452.9 94.51H456.1" stroke="#70d040" stroke-width="0.7" stroke-opacity="0.85" fill="none"/>
<path d="M452.9 47.5H456.1M452.9 83.31H456.1M452.9 63.84H456.1M452.9 99.65H456.1" stroke="#c00000" stroke-width="0.7" stroke-opacity="0.85" fill="none"/>
<path d="M479.5 130.77V131.66M479.5 126.51V130.77M477.9 122.71H481.1M477.9 131.66H481.1M477.9 119.58H481.1M477.9 130.77H481.1" stroke="#303030" stroke-width="0.8" stroke-opacity="0.85" fill="none"/>
<path d="M479.5 122.71V126.51M479.5 120.25V122.71M479.5 119.58V120.25M479.5 116.89V119.58M479.5 115.77V116.89M479.5 114.65V115.77M479.5 113.76V114.65M479.5 101.22V113.76M479.5 86.22V101.22M479.5 85.55V86.22M479.5 84.43V85.55M479.5 83.31V84.43M479.5 79.96V83.31M479.5 77.94V79.96M479.5 65.41V77.94M477.9 65.41H481.1M477.9 101.22H481.1M477.9 86.22H481.1M477.9 126.51H481.1" stroke="#ff0000" stroke-width="0.7" stroke-opacity="0.85" fill="none"/>
<path d="M477.9 79.96H481.1M477.9 115.77H481.1M477.9 77.94H481.1M477.9 113.76H481.1" stroke="#00a050" stroke-width="0.7" stroke-opacity="0.85" fill="none"/>
<path d="M477.9 83.31H481.1M477.9 114.65H481.1M477.9 85.55H481.1M477.9 116.89H481.1" stroke="#70d040" stroke-width="0.7" stroke-opacity="0.85" fill="none"/>
<path d="M477.9 84.43H481.1M477.9 120.25H481.1M477.9 79.96H481.1M477.9 115.77H481.1" stroke="#c00000" stroke-width="0.7" stroke-opacity="0.85" fill="none"/>
<path d="M277.44 113.53C286.11 108.83 316.97 87.38 329.46 85.33C341.94 83.28 342.24 99.43 352.34 101.22C362.44 103.01 381.12 96.52 390.05 96.07C398.99 95.63 399.44 97.9 405.96 98.54C412.49 99.17 421.13 97.6 429.2 99.88C437.27 102.15 446.06 107.64 454.4 112.19C462.75 116.74 475.11 124.69 479.25 127.19" stroke="#000000" stroke-width="1.1" fill="none" stroke-linejoin="round"/>
<circle cx="277.44" cy="113.53" r="2.05" fill="#000000"/>
<circle cx="329.46" cy="85.33" r="2.05" fill="#000000"/>
<circle cx="352.34" cy="101.22" r="2.05" fill="#000000"/>
<circle cx="390.05" cy="96.07" r="2.05" fill="#000000"/>
<circle cx="405.96" cy="98.54" r="2.05" fill="#000000"/>
<circle cx="429.2" cy="99.88" r="2.05" fill="#000000"/>
<circle cx="454.4" cy="112.19" r="2.05" fill="#000000"/>
<circle cx="479.25" cy="127.19" r="2.05" fill="#000000"/>
<path d="M277.44 113.53C286.11 110.59 316.97 95.85 329.46 95.85C341.94 95.85 342.24 109.91 352.34 113.53C362.44 117.15 381.12 117.56 390.05 117.56C398.99 117.56 399.44 114.09 405.96 113.53C412.49 112.97 421.13 115.1 429.2 114.2C437.27 113.31 446.06 106.33 454.4 108.16C462.75 109.99 475.11 122.34 479.25 125.17" stroke="#000000" stroke-width="1.1" fill="none" stroke-dasharray="3.7 2.5 0.9 2.5"/>
<circle cx="277.44" cy="113.53" r="1.85" fill="#fff" stroke="#000000" stroke-width="0.7"/>
<circle cx="329.46" cy="95.85" r="1.85" fill="#fff" stroke="#000000" stroke-width="0.7"/>
<circle cx="352.34" cy="113.53" r="1.85" fill="#fff" stroke="#000000" stroke-width="0.7"/>
<circle cx="390.05" cy="117.56" r="1.85" fill="#fff" stroke="#000000" stroke-width="0.7"/>
<circle cx="405.96" cy="113.53" r="1.85" fill="#fff" stroke="#000000" stroke-width="0.7"/>
<circle cx="429.2" cy="114.2" r="1.85" fill="#fff" stroke="#000000" stroke-width="0.7"/>
<circle cx="454.4" cy="108.16" r="1.85" fill="#fff" stroke="#000000" stroke-width="0.7"/>
<circle cx="479.25" cy="125.17" r="1.85" fill="#fff" stroke="#000000" stroke-width="0.7"/>
<path d="M277.44 113.53C286.11 104.58 316.97 69.03 329.46 59.81C341.94 50.6 342.24 59.03 352.34 58.25C362.44 57.46 381.12 57.35 390.05 55.11C398.99 52.87 399.44 45.45 405.96 44.82C412.49 44.18 421.13 48.47 429.2 51.31C437.27 54.14 446.06 54.07 454.4 61.83C462.75 69.59 475.11 91.86 479.25 97.86" stroke="#00a050" stroke-width="1.1" fill="none" stroke-linejoin="round"/>
<circle cx="277.44" cy="113.53" r="2.05" fill="#00a050"/>
<circle cx="329.46" cy="59.81" r="2.05" fill="#00a050"/>
<circle cx="352.34" cy="58.25" r="2.05" fill="#00a050"/>
<circle cx="390.05" cy="55.11" r="2.05" fill="#00a050"/>
<circle cx="405.96" cy="44.82" r="2.05" fill="#00a050"/>
<circle cx="429.2" cy="51.31" r="2.05" fill="#00a050"/>
<circle cx="454.4" cy="61.83" r="2.05" fill="#00a050"/>
<circle cx="479.25" cy="97.86" r="2.05" fill="#00a050"/>
<path d="M277.44 113.53C286.11 104.77 316.97 67.09 329.46 60.93C341.94 54.78 342.24 75.11 352.34 76.6C362.44 78.09 381.12 70.63 390.05 69.88C398.99 69.14 399.44 72.27 405.96 72.12C412.49 71.97 421.13 68.73 429.2 68.99C437.27 69.25 446.06 69.21 454.4 73.69C462.75 78.17 475.11 92.16 479.25 95.85" stroke="#00a050" stroke-width="1.1" fill="none" stroke-dasharray="3.7 2.5 0.9 2.5"/>
<circle cx="277.44" cy="113.53" r="1.85" fill="#fff" stroke="#00a050" stroke-width="0.7"/>
<circle cx="329.46" cy="60.93" r="1.85" fill="#fff" stroke="#00a050" stroke-width="0.7"/>
<circle cx="352.34" cy="76.6" r="1.85" fill="#fff" stroke="#00a050" stroke-width="0.7"/>
<circle cx="390.05" cy="69.88" r="1.85" fill="#fff" stroke="#00a050" stroke-width="0.7"/>
<circle cx="405.96" cy="72.12" r="1.85" fill="#fff" stroke="#00a050" stroke-width="0.7"/>
<circle cx="429.2" cy="68.99" r="1.85" fill="#fff" stroke="#00a050" stroke-width="0.7"/>
<circle cx="454.4" cy="73.69" r="1.85" fill="#fff" stroke="#00a050" stroke-width="0.7"/>
<circle cx="479.25" cy="95.85" r="1.85" fill="#fff" stroke="#00a050" stroke-width="0.7"/>
<path d="M277.44 113.53C286.11 106.56 316.97 77.83 329.46 71.68C341.94 65.52 342.24 77.01 352.34 76.6C362.44 76.19 381.12 70.89 390.05 69.21C398.99 67.53 399.44 66.9 405.96 66.53C412.49 66.15 421.13 66.6 429.2 66.98C437.27 67.35 446.06 63.43 454.4 68.77C462.75 74.1 475.11 93.95 479.25 98.98" stroke="#70d040" stroke-width="1.1" fill="none" stroke-linejoin="round"/>
<circle cx="277.44" cy="113.53" r="2.05" fill="#70d040"/>
<circle cx="329.46" cy="71.68" r="2.05" fill="#70d040"/>
<circle cx="352.34" cy="76.6" r="2.05" fill="#70d040"/>
<circle cx="390.05" cy="69.21" r="2.05" fill="#70d040"/>
<circle cx="405.96" cy="66.53" r="2.05" fill="#70d040"/>
<circle cx="429.2" cy="66.98" r="2.05" fill="#70d040"/>
<circle cx="454.4" cy="68.77" r="2.05" fill="#70d040"/>
<circle cx="479.25" cy="98.98" r="2.05" fill="#70d040"/>
<path d="M277.44 113.53C286.11 106.18 316.97 75.41 329.46 69.44C341.94 63.47 342.24 74.25 352.34 77.72C362.44 81.19 381.12 87.83 390.05 90.25C398.99 92.68 399.44 93.8 405.96 92.27C412.49 90.74 421.13 83.31 429.2 81.08C437.27 78.84 446.06 75.48 454.4 78.84C462.75 82.2 475.11 97.49 479.25 101.22" stroke="#70d040" stroke-width="1.1" fill="none" stroke-dasharray="3.7 2.5 0.9 2.5"/>
<circle cx="277.44" cy="113.53" r="1.85" fill="#fff" stroke="#70d040" stroke-width="0.7"/>
<circle cx="329.46" cy="69.44" r="1.85" fill="#fff" stroke="#70d040" stroke-width="0.7"/>
<circle cx="352.34" cy="77.72" r="1.85" fill="#fff" stroke="#70d040" stroke-width="0.7"/>
<circle cx="390.05" cy="90.25" r="1.85" fill="#fff" stroke="#70d040" stroke-width="0.7"/>
<circle cx="405.96" cy="92.27" r="1.85" fill="#fff" stroke="#70d040" stroke-width="0.7"/>
<circle cx="429.2" cy="81.08" r="1.85" fill="#fff" stroke="#70d040" stroke-width="0.7"/>
<circle cx="454.4" cy="78.84" r="1.85" fill="#fff" stroke="#70d040" stroke-width="0.7"/>
<circle cx="479.25" cy="101.22" r="1.85" fill="#fff" stroke="#70d040" stroke-width="0.7"/>
<path d="M277.44 112.41C286.11 103.05 316.97 64.77 329.46 56.23C341.94 47.69 342.24 61.83 352.34 61.16C362.44 60.48 381.12 52.69 390.05 52.2C398.99 51.72 399.44 57.72 405.96 58.25C412.49 58.77 421.13 54.14 429.2 55.34C437.27 56.53 446.06 57.57 454.4 65.41C462.75 73.24 475.11 96.19 479.25 102.34" stroke="#c00000" stroke-width="1.1" fill="none" stroke-linejoin="round"/>
<circle cx="277.44" cy="112.41" r="2.05" fill="#c00000"/>
<circle cx="329.46" cy="56.23" r="2.05" fill="#c00000"/>
<circle cx="352.34" cy="61.16" r="2.05" fill="#c00000"/>
<circle cx="390.05" cy="52.2" r="2.05" fill="#c00000"/>
<circle cx="405.96" cy="58.25" r="2.05" fill="#c00000"/>
<circle cx="429.2" cy="55.34" r="2.05" fill="#c00000"/>
<circle cx="454.4" cy="65.41" r="2.05" fill="#c00000"/>
<circle cx="479.25" cy="102.34" r="2.05" fill="#c00000"/>
<path d="M277.44 113.53C286.11 105.03 316.97 70.59 329.46 62.5C341.94 54.4 342.24 63.13 352.34 64.96C362.44 66.79 381.12 73.02 390.05 73.47C398.99 73.91 399.44 67.24 405.96 67.65C412.49 68.06 421.13 73.58 429.2 75.93C437.27 78.28 446.06 78.09 454.4 81.75C462.75 85.4 475.11 95.18 479.25 97.86" stroke="#c00000" stroke-width="1.1" fill="none" stroke-dasharray="3.7 2.5 0.9 2.5"/>
<circle cx="277.44" cy="113.53" r="1.85" fill="#fff" stroke="#c00000" stroke-width="0.7"/>
<circle cx="329.46" cy="62.5" r="1.85" fill="#fff" stroke="#c00000" stroke-width="0.7"/>
<circle cx="352.34" cy="64.96" r="1.85" fill="#fff" stroke="#c00000" stroke-width="0.7"/>
<circle cx="390.05" cy="73.47" r="1.85" fill="#fff" stroke="#c00000" stroke-width="0.7"/>
<circle cx="405.96" cy="67.65" r="1.85" fill="#fff" stroke="#c00000" stroke-width="0.7"/>
<circle cx="429.2" cy="75.93" r="1.85" fill="#fff" stroke="#c00000" stroke-width="0.7"/>
<circle cx="454.4" cy="81.75" r="1.85" fill="#fff" stroke="#c00000" stroke-width="0.7"/>
<circle cx="479.25" cy="97.86" r="1.85" fill="#fff" stroke="#c00000" stroke-width="0.7"/>
<path d="M277.44 113.53C286.11 106.82 316.97 79.73 329.46 73.24C341.94 66.75 342.24 79.81 352.34 74.59C362.44 69.36 381.12 45.97 390.05 41.91C398.99 37.84 399.44 47.95 405.96 50.19C412.49 52.43 421.13 52.91 429.2 55.34C437.27 57.76 446.06 60.07 454.4 64.74C462.75 69.4 475.11 80.22 479.25 83.31" stroke="#ff0000" stroke-width="1.1" fill="none" stroke-linejoin="round"/>
<circle cx="277.44" cy="113.53" r="2.05" fill="#ff0000"/>
<circle cx="329.46" cy="73.24" r="2.05" fill="#ff0000"/>
<circle cx="352.34" cy="74.59" r="2.05" fill="#ff0000"/>
<circle cx="390.05" cy="41.91" r="2.05" fill="#ff0000"/>
<circle cx="405.96" cy="50.19" r="2.05" fill="#ff0000"/>
<circle cx="429.2" cy="55.34" r="2.05" fill="#ff0000"/>
<circle cx="454.4" cy="64.74" r="2.05" fill="#ff0000"/>
<circle cx="479.25" cy="83.31" r="2.05" fill="#ff0000"/>
<path d="M277.44 114.65C286.11 107.6 316.97 78.84 329.46 72.35C341.94 65.86 342.24 73.5 352.34 75.7C362.44 77.91 381.12 82.98 390.05 85.55C398.99 88.13 399.44 90.4 405.96 91.15C412.49 91.9 421.13 91.11 429.2 90.03C437.27 88.95 446.06 81.93 454.4 84.66C462.75 87.38 475.11 102.75 479.25 106.37" stroke="#ff0000" stroke-width="1.1" fill="none" stroke-dasharray="3.7 2.5 0.9 2.5"/>
<circle cx="277.44" cy="114.65" r="1.85" fill="#fff" stroke="#ff0000" stroke-width="0.7"/>
<circle cx="329.46" cy="72.35" r="1.85" fill="#fff" stroke="#ff0000" stroke-width="0.7"/>
<circle cx="352.34" cy="75.7" r="1.85" fill="#fff" stroke="#ff0000" stroke-width="0.7"/>
<circle cx="390.05" cy="85.55" r="1.85" fill="#fff" stroke="#ff0000" stroke-width="0.7"/>
<circle cx="405.96" cy="91.15" r="1.85" fill="#fff" stroke="#ff0000" stroke-width="0.7"/>
<circle cx="429.2" cy="90.03" r="1.85" fill="#fff" stroke="#ff0000" stroke-width="0.7"/>
<circle cx="454.4" cy="84.66" r="1.85" fill="#fff" stroke="#ff0000" stroke-width="0.7"/>
<circle cx="479.25" cy="106.37" r="1.85" fill="#fff" stroke="#ff0000" stroke-width="0.7"/>
<g stroke="#808080" stroke-width="1" fill="none">
<path d="M25.8 175.6V309.2"/>
<path d="M25.8 309.2H240"/>
<path d="M22.8 309.2H25.8"/>
<path d="M22.8 286.93H25.8"/>
<path d="M22.8 264.67H25.8"/>
<path d="M22.8 242.4H25.8"/>
<path d="M22.8 220.13H25.8"/>
<path d="M22.8 197.87H25.8"/>
<path d="M22.8 175.6H25.8"/>
<path d="M25.8 309.2V312"/>
<path d="M52.58 309.2V312"/>
<path d="M79.35 309.2V312"/>
<path d="M106.12 309.2V312"/>
<path d="M132.9 309.2V312"/>
<path d="M159.68 309.2V312"/>
<path d="M186.45 309.2V312"/>
<path d="M213.23 309.2V312"/>
<path d="M240 309.2V312"/>
</g>
<g font-size="8.3" fill="#000" stroke="#000" stroke-width="0.15" text-anchor="end">
<text x="17.3" y="311.9" textLength="10.89" lengthAdjust="spacingAndGlyphs">0.8</text>
<text x="17.3" y="289.63" textLength="10.89" lengthAdjust="spacingAndGlyphs">1.0</text>
<text x="17.3" y="267.37" textLength="10.89" lengthAdjust="spacingAndGlyphs">1.2</text>
<text x="17.3" y="245.1" textLength="10.89" lengthAdjust="spacingAndGlyphs">1.4</text>
<text x="17.3" y="222.83" textLength="10.89" lengthAdjust="spacingAndGlyphs">1.6</text>
<text x="17.3" y="200.57" textLength="10.89" lengthAdjust="spacingAndGlyphs">1.8</text>
<text x="17.3" y="178.3" textLength="10.89" lengthAdjust="spacingAndGlyphs">2.0</text>
</g>
<g font-size="8.3" fill="#000" stroke="#000" stroke-width="0.15" text-anchor="end">
<text transform="translate(26.6 323.3) rotate(-19)" textLength="20.8" lengthAdjust="spacingAndGlyphs">09/06</text>
<text transform="translate(53.38 323.3) rotate(-19)" textLength="20.8" lengthAdjust="spacingAndGlyphs">24/06</text>
<text transform="translate(80.15 323.3) rotate(-19)" textLength="20.8" lengthAdjust="spacingAndGlyphs">09/07</text>
<text transform="translate(106.92 323.3) rotate(-19)" textLength="20.8" lengthAdjust="spacingAndGlyphs">24/07</text>
<text transform="translate(133.7 323.3) rotate(-19)" textLength="20.8" lengthAdjust="spacingAndGlyphs">08/08</text>
<text transform="translate(160.48 323.3) rotate(-19)" textLength="20.8" lengthAdjust="spacingAndGlyphs">23/08</text>
<text transform="translate(187.25 323.3) rotate(-19)" textLength="20.8" lengthAdjust="spacingAndGlyphs">07/09</text>
<text transform="translate(214.03 323.3) rotate(-19)" textLength="20.8" lengthAdjust="spacingAndGlyphs">22/09</text>
<text transform="translate(240.8 323.3) rotate(-19)" textLength="20.8" lengthAdjust="spacingAndGlyphs">07/10</text>
</g>
<text x="140.4" y="185.2" font-size="8.4" text-anchor="middle" fill="#111" textLength="13.9" lengthAdjust="spacingAndGlyphs">Flav</text>
<text x="33.3" y="188" font-size="13" font-weight="bold" fill="#000">c)</text>
<path d="M31.5 223.47V224.59M31.5 222.36V223.47M31.5 220.13V222.36M31.5 219.02V220.13M29.9 205.66H33.1M29.9 223.47H33.1M29.9 206.77H33.1M29.9 224.59H33.1" stroke="#70d040" stroke-width="0.7" stroke-opacity="0.85" fill="none"/>
<path d="M31.5 217.91V219.02M31.5 216.79V217.91M29.9 205.66H33.1M29.9 219.02H33.1M29.9 204.55H33.1M29.9 217.91H33.1" stroke="#c00000" stroke-width="0.7" stroke-opacity="0.85" fill="none"/>
<path d="M31.5 206.77V216.79M31.5 205.66V206.77M31.5 204.55V205.66M31.5 203.43V204.55M29.9 203.43H33.1M29.9 216.79H33.1M29.9 203.43H33.1M29.9 216.79H33.1" stroke="#ff0000" stroke-width="0.7" stroke-opacity="0.85" fill="none"/>
<path d="M31.5 202.32V203.43M29.9 202.32H33.1M29.9 222.36H33.1M29.9 204.55H33.1M29.9 222.36H33.1" stroke="#00a050" stroke-width="0.7" stroke-opacity="0.85" fill="none"/>
<path d="M29.9 205.66H33.1M29.9 219.02H33.1M29.9 206.77H33.1M29.9 220.13H33.1" stroke="#303030" stroke-width="0.8" stroke-opacity="0.85" fill="none"/>
<path d="M83.5 294.73V295.62M81.9 236.17H85.1M81.9 291.83H85.1M81.9 251.08H85.1M81.9 295.62H85.1" stroke="#c00000" stroke-width="0.7" stroke-opacity="0.85" fill="none"/>
<path d="M83.5 291.94V294.73M83.5 291.83V291.94M83.5 281.48V291.83M83.5 281.37V281.48M83.5 273.8V281.37M83.5 265.78V273.8M83.5 259.66V265.78M83.5 251.08V259.66M83.5 248.75V251.08M83.5 247.41V248.75M83.5 236.94V247.41M83.5 236.83V236.94M83.5 236.17V236.83M83.5 229.26V236.17M83.5 217.57V229.26M83.5 216.79V217.57M81.9 217.57H85.1M81.9 248.75H85.1M81.9 216.79H85.1M81.9 294.73H85.1" stroke="#ff0000" stroke-width="0.7" stroke-opacity="0.85" fill="none"/>
<path d="M83.5 215.12V216.79M83.5 210.11V215.12M81.9 215.12H85.1M81.9 259.66H85.1M81.9 210.11H85.1M81.9 265.78H85.1" stroke="#303030" stroke-width="0.8" stroke-opacity="0.85" fill="none"/>
<path d="M81.9 229.26H85.1M81.9 273.8H85.1M81.9 247.41H85.1M81.9 291.94H85.1" stroke="#00a050" stroke-width="0.7" stroke-opacity="0.85" fill="none"/>
<path d="M81.9 236.94H85.1M81.9 281.48H85.1M81.9 236.83H85.1M81.9 281.37H85.1" stroke="#70d040" stroke-width="0.7" stroke-opacity="0.85" fill="none"/>
<path d="M106.5 305.3V305.86M104.9 268.01H108.1M104.9 305.86H108.1M104.9 268.01H108.1M104.9 305.86H108.1" stroke="#00a050" stroke-width="0.7" stroke-opacity="0.85" fill="none"/>
<path d="M106.5 300.29V305.3M106.5 298.07V300.29M106.5 297.51V298.07M106.5 291.39V297.51M106.5 291.28V291.39M106.5 268.01V291.28M106.5 267.45V268.01M106.5 266.89V267.45M106.5 265.45V266.89M106.5 265V265.45M106.5 264.67V265M106.5 264.11V264.67M106.5 260.21V264.11M106.5 258.99V260.21M104.9 258.99H108.1M104.9 291.28H108.1M104.9 267.45H108.1M104.9 305.3H108.1" stroke="#ff0000" stroke-width="0.7" stroke-opacity="0.85" fill="none"/>
<path d="M106.5 220.47V258.99M106.5 209.78V220.47M104.9 220.47H108.1M104.9 265H108.1M104.9 209.78H108.1M104.9 265.45H108.1" stroke="#303030" stroke-width="0.8" stroke-opacity="0.85" fill="none"/>
<path d="M104.9 260.21H108.1M104.9 291.39H108.1M104.9 266.89H108.1M104.9 300.29H108.1" stroke="#70d040" stroke-width="0.7" stroke-opacity="0.85" fill="none"/>
<path d="M104.9 264.11H108.1M104.9 297.51H108.1M104.9 264.67H108.1M104.9 298.07H108.1" stroke="#c00000" stroke-width="0.7" stroke-opacity="0.85" fill="none"/>
<path d="M143.5 292.83V295.17M141.9 272.91H145.1M141.9 295.17H145.1M141.9 270.23H145.1M141.9 292.5H145.1" stroke="#c00000" stroke-width="0.7" stroke-opacity="0.85" fill="none"/>
<path d="M143.5 292.5V292.83M143.5 291.39V292.5M143.5 290.05V291.39M143.5 285.82V290.05M143.5 282.03V285.82M143.5 272.91V282.03M143.5 270.57V272.91M143.5 270.23V270.57M143.5 269.12V270.23M143.5 267.78V269.12M141.9 267.78H145.1M141.9 290.05H145.1M141.9 270.57H145.1M141.9 292.83H145.1" stroke="#ff0000" stroke-width="0.7" stroke-opacity="0.85" fill="none"/>
<path d="M143.5 263.55V267.78M141.9 263.55H145.1M141.9 285.82H145.1M141.9 269.12H145.1M141.9 291.39H145.1" stroke="#70d040" stroke-width="0.7" stroke-opacity="0.85" fill="none"/>
<path d="M143.5 259.77V263.55M141.9 259.77H145.1M141.9 282.03H145.1M141.9 269.12H145.1M141.9 291.39H145.1" stroke="#00a050" stroke-width="0.7" stroke-opacity="0.85" fill="none"/>
<path d="M143.5 258.43V258.65M143.5 225.25V258.43M143.5 216.13V225.25M141.9 225.25H145.1M141.9 258.65H145.1M141.9 216.13H145.1M141.9 258.43H145.1" stroke="#303030" stroke-width="0.8" stroke-opacity="0.85" fill="none"/>
<path d="M159.5 294.39V301.74M157.9 272.79H161.1M157.9 301.74H161.1M157.9 268.01H161.1M157.9 290.27H161.1" stroke="#00a050" stroke-width="0.7" stroke-opacity="0.85" fill="none"/>
<path d="M159.5 291.94V294.39M159.5 290.27V291.94M159.5 289.16V290.27M159.5 286.93V289.16M159.5 278.36V286.93M159.5 272.79V278.36M159.5 268.01V272.79M159.5 265.22V268.01M159.5 264.67V265.22M159.5 263.55V264.67M159.5 262.44V263.55M159.5 262.11V262.44M159.5 256.54V262.11M157.9 256.54H161.1M157.9 294.39H161.1M157.9 265.22H161.1M157.9 291.94H161.1" stroke="#ff0000" stroke-width="0.7" stroke-opacity="0.85" fill="none"/>
<path d="M159.5 256.09V256.54M157.9 264.67H161.1M157.9 286.93H161.1M157.9 256.09H161.1M157.9 278.36H161.1" stroke="#70d040" stroke-width="0.7" stroke-opacity="0.85" fill="none"/>
<path d="M159.5 253.53V256.09M159.5 231.27V253.53M159.5 219.8V231.27M157.9 231.27H161.1M157.9 253.53H161.1M157.9 219.8H161.1M157.9 262.11H161.1" stroke="#303030" stroke-width="0.8" stroke-opacity="0.85" fill="none"/>
<path d="M157.9 263.55H161.1M157.9 290.27H161.1M157.9 262.44H161.1M157.9 289.16H161.1" stroke="#c00000" stroke-width="0.7" stroke-opacity="0.85" fill="none"/>
<path d="M182.5 292.05V292.95M182.5 286.93V292.05M182.5 282.48V286.93M182.5 281.37V282.48M182.5 280.81V281.37M182.5 276.13V280.81M182.5 269.79V276.13M182.5 264.11V269.79M182.5 260.21V264.11M182.5 260.21V260.21M182.5 259.1V260.21M182.5 258.54V259.1M182.5 258.32V258.54M182.5 252.98V258.32M182.5 252.87V252.98M180.9 252.87H184.1M180.9 292.95H184.1M180.9 258.54H184.1M180.9 280.81H184.1" stroke="#ff0000" stroke-width="0.7" stroke-opacity="0.85" fill="none"/>
<path d="M182.5 217.35V252.87M182.5 201.76V217.35M180.9 217.35H184.1M180.9 264.11H184.1M180.9 201.76H184.1M180.9 252.98H184.1" stroke="#303030" stroke-width="0.8" stroke-opacity="0.85" fill="none"/>
<path d="M180.9 260.21H184.1M180.9 286.93H184.1M180.9 269.79H184.1M180.9 292.05H184.1" stroke="#00a050" stroke-width="0.7" stroke-opacity="0.85" fill="none"/>
<path d="M180.9 260.21H184.1M180.9 282.48H184.1M180.9 259.1H184.1M180.9 281.37H184.1" stroke="#70d040" stroke-width="0.7" stroke-opacity="0.85" fill="none"/>
<path d="M180.9 260.21H184.1M180.9 286.93H184.1M180.9 258.32H184.1M180.9 276.13H184.1" stroke="#c00000" stroke-width="0.7" stroke-opacity="0.85" fill="none"/>
<path d="M208.5 295.39V295.73M208.5 248.86V250.86M208.5 248.52V248.86M208.5 242.4V248.52M206.9 264.56H210.1M206.9 295.73H210.1M206.9 242.4H210.1M206.9 286.93H210.1" stroke="#c00000" stroke-width="0.7" stroke-opacity="0.85" fill="none"/>
<path d="M208.5 289.16V295.39M208.5 286.93V289.16M208.5 286.82V286.93M208.5 280.81V286.82M208.5 280.25V280.81M208.5 279.14V280.25M208.5 264.56V279.14M208.5 255.76V264.56M208.5 254.09V255.76M208.5 253.53V254.09M208.5 253.42V253.53M208.5 252.42V253.42M208.5 250.86V252.42M206.9 250.86H210.1M206.9 295.39H210.1M206.9 253.42H210.1M206.9 286.82H210.1" stroke="#ff0000" stroke-width="0.7" stroke-opacity="0.85" fill="none"/>
<path d="M208.5 215.12V242.4M208.5 206.55V215.12M206.9 215.12H210.1M206.9 248.52H210.1M206.9 206.55H210.1M206.9 248.86H210.1" stroke="#303030" stroke-width="0.8" stroke-opacity="0.85" fill="none"/>
<path d="M206.9 255.76H210.1M206.9 289.16H210.1M206.9 254.09H210.1M206.9 280.81H210.1" stroke="#00a050" stroke-width="0.7" stroke-opacity="0.85" fill="none"/>
<path d="M206.9 252.42H210.1M206.9 279.14H210.1M206.9 253.53H210.1M206.9 280.25H210.1" stroke="#70d040" stroke-width="0.7" stroke-opacity="0.85" fill="none"/>
<path d="M232.5 283.59V288.05M232.5 280.25V283.59M232.5 239.39V247.74M232.5 239.06V239.39M230.9 239.06H234.1M230.9 288.05H234.1M230.9 250.19H234.1M230.9 283.59H234.1" stroke="#00a050" stroke-width="0.7" stroke-opacity="0.85" fill="none"/>
<path d="M232.5 278.03V280.25M232.5 278.03V278.03M232.5 277.8V278.03M232.5 276.91V277.8M232.5 255.76V276.91M232.5 253.53V255.76M232.5 251.31V253.53M232.5 250.19V251.31M232.5 247.97V250.19M232.5 247.74V247.97M230.9 247.74H234.1M230.9 277.8H234.1M230.9 253.53H234.1M230.9 280.25H234.1" stroke="#ff0000" stroke-width="0.7" stroke-opacity="0.85" fill="none"/>
<path d="M232.5 238.73V239.06M232.5 221.58V238.73M232.5 217.57V221.58M230.9 221.58H234.1M230.9 239.39H234.1M230.9 217.57H234.1M230.9 238.73H234.1" stroke="#303030" stroke-width="0.8" stroke-opacity="0.85" fill="none"/>
<path d="M230.9 251.31H234.1M230.9 278.03H234.1M230.9 255.76H234.1M230.9 278.03H234.1" stroke="#70d040" stroke-width="0.7" stroke-opacity="0.85" fill="none"/>
<path d="M230.9 247.97H234.1M230.9 276.91H234.1M230.9 251.31H234.1M230.9 278.03H234.1" stroke="#c00000" stroke-width="0.7" stroke-opacity="0.85" fill="none"/>
<path d="M31.33 212.34C39.99 216.51 70.81 232.32 83.28 237.39C95.74 242.46 96.04 241.97 106.12 242.73C116.21 243.49 134.86 242.01 143.79 241.95C152.71 241.9 153.16 242.6 159.68 242.4C166.19 242.2 174.82 242.49 182.88 240.73C190.94 238.97 199.72 233.53 208.05 231.82C216.38 230.12 228.72 230.71 232.86 230.49" stroke="#000000" stroke-width="1.1" fill="none" stroke-linejoin="round"/>
<circle cx="31.33" cy="212.34" r="2.05" fill="#000000"/>
<circle cx="83.28" cy="237.39" r="2.05" fill="#000000"/>
<circle cx="106.12" cy="242.73" r="2.05" fill="#000000"/>
<circle cx="143.79" cy="241.95" r="2.05" fill="#000000"/>
<circle cx="159.68" cy="242.4" r="2.05" fill="#000000"/>
<circle cx="182.88" cy="240.73" r="2.05" fill="#000000"/>
<circle cx="208.05" cy="231.82" r="2.05" fill="#000000"/>
<circle cx="232.86" cy="230.49" r="2.05" fill="#000000"/>
<path d="M31.33 213.45C39.99 217.54 70.81 233.92 83.28 237.95C95.74 241.97 96.04 237.72 106.12 237.61C116.21 237.5 134.86 236.72 143.79 237.28C152.71 237.84 153.16 242.6 159.68 240.95C166.19 239.3 174.82 229.58 182.88 227.37C190.94 225.16 199.72 227.57 208.05 227.7C216.38 227.83 228.72 228.08 232.86 228.15" stroke="#000000" stroke-width="1.1" fill="none" stroke-dasharray="3.7 2.5 0.9 2.5"/>
<circle cx="31.33" cy="213.45" r="1.85" fill="#fff" stroke="#000000" stroke-width="0.7"/>
<circle cx="83.28" cy="237.95" r="1.85" fill="#fff" stroke="#000000" stroke-width="0.7"/>
<circle cx="106.12" cy="237.61" r="1.85" fill="#fff" stroke="#000000" stroke-width="0.7"/>
<circle cx="143.79" cy="237.28" r="1.85" fill="#fff" stroke="#000000" stroke-width="0.7"/>
<circle cx="159.68" cy="240.95" r="1.85" fill="#fff" stroke="#000000" stroke-width="0.7"/>
<circle cx="182.88" cy="227.37" r="1.85" fill="#fff" stroke="#000000" stroke-width="0.7"/>
<circle cx="208.05" cy="227.7" r="1.85" fill="#fff" stroke="#000000" stroke-width="0.7"/>
<circle cx="232.86" cy="228.15" r="1.85" fill="#fff" stroke="#000000" stroke-width="0.7"/>
<path d="M31.33 212.34C39.99 218.87 70.81 239.1 83.28 251.53C95.74 263.96 96.04 283.7 106.12 286.93C116.21 290.16 134.86 270.85 143.79 270.9C152.71 270.96 153.16 286.82 159.68 287.27C166.19 287.71 174.82 276.04 182.88 273.57C190.94 271.11 199.72 274.13 208.05 272.46C216.38 270.79 228.72 265.04 232.86 263.55" stroke="#00a050" stroke-width="1.1" fill="none" stroke-linejoin="round"/>
<circle cx="31.33" cy="212.34" r="2.05" fill="#00a050"/>
<circle cx="83.28" cy="251.53" r="2.05" fill="#00a050"/>
<circle cx="106.12" cy="286.93" r="2.05" fill="#00a050"/>
<circle cx="143.79" cy="270.9" r="2.05" fill="#00a050"/>
<circle cx="159.68" cy="287.27" r="2.05" fill="#00a050"/>
<circle cx="182.88" cy="273.57" r="2.05" fill="#00a050"/>
<circle cx="208.05" cy="272.46" r="2.05" fill="#00a050"/>
<circle cx="232.86" cy="263.55" r="2.05" fill="#00a050"/>
<path d="M31.33 213.45C39.99 222.82 70.81 257.43 83.28 269.68C95.74 281.92 96.04 285.17 106.12 286.93C116.21 288.7 134.86 281.55 143.79 280.25C152.71 278.95 153.16 279.03 159.68 279.14C166.19 279.25 174.82 282.87 182.88 280.92C190.94 278.97 199.72 269.79 208.05 267.45C216.38 265.11 228.72 266.99 232.86 266.89" stroke="#00a050" stroke-width="1.1" fill="none" stroke-dasharray="3.7 2.5 0.9 2.5"/>
<circle cx="31.33" cy="213.45" r="1.85" fill="#fff" stroke="#00a050" stroke-width="0.7"/>
<circle cx="83.28" cy="269.68" r="1.85" fill="#fff" stroke="#00a050" stroke-width="0.7"/>
<circle cx="106.12" cy="286.93" r="1.85" fill="#fff" stroke="#00a050" stroke-width="0.7"/>
<circle cx="143.79" cy="280.25" r="1.85" fill="#fff" stroke="#00a050" stroke-width="0.7"/>
<circle cx="159.68" cy="279.14" r="1.85" fill="#fff" stroke="#00a050" stroke-width="0.7"/>
<circle cx="182.88" cy="280.92" r="1.85" fill="#fff" stroke="#00a050" stroke-width="0.7"/>
<circle cx="208.05" cy="267.45" r="1.85" fill="#fff" stroke="#00a050" stroke-width="0.7"/>
<circle cx="232.86" cy="266.89" r="1.85" fill="#fff" stroke="#00a050" stroke-width="0.7"/>
<path d="M31.33 214.57C39.99 222.01 70.81 249.01 83.28 259.21C95.74 269.42 96.04 273.22 106.12 275.8C116.21 278.38 134.86 274.69 143.79 274.69C152.71 274.69 153.16 276.36 159.68 275.8C166.19 275.24 174.82 273.02 182.88 271.35C190.94 269.68 199.72 266.89 208.05 265.78C216.38 264.67 228.72 264.85 232.86 264.67" stroke="#70d040" stroke-width="1.1" fill="none" stroke-linejoin="round"/>
<circle cx="31.33" cy="214.57" r="2.05" fill="#70d040"/>
<circle cx="83.28" cy="259.21" r="2.05" fill="#70d040"/>
<circle cx="106.12" cy="275.8" r="2.05" fill="#70d040"/>
<circle cx="143.79" cy="274.69" r="2.05" fill="#70d040"/>
<circle cx="159.68" cy="275.8" r="2.05" fill="#70d040"/>
<circle cx="182.88" cy="271.35" r="2.05" fill="#70d040"/>
<circle cx="208.05" cy="265.78" r="2.05" fill="#70d040"/>
<circle cx="232.86" cy="264.67" r="2.05" fill="#70d040"/>
<path d="M31.33 215.68C39.99 222.92 70.81 247.78 83.28 259.1C95.74 270.42 96.04 280.07 106.12 283.59C116.21 287.12 134.86 282.98 143.79 280.25C152.71 277.53 153.16 268.9 159.68 267.23C166.19 265.56 174.82 270.29 182.88 270.23C190.94 270.18 199.72 267.45 208.05 266.89C216.38 266.34 228.72 266.89 232.86 266.89" stroke="#70d040" stroke-width="1.1" fill="none" stroke-dasharray="3.7 2.5 0.9 2.5"/>
<circle cx="31.33" cy="215.68" r="1.85" fill="#fff" stroke="#70d040" stroke-width="0.7"/>
<circle cx="83.28" cy="259.1" r="1.85" fill="#fff" stroke="#70d040" stroke-width="0.7"/>
<circle cx="106.12" cy="283.59" r="1.85" fill="#fff" stroke="#70d040" stroke-width="0.7"/>
<circle cx="143.79" cy="280.25" r="1.85" fill="#fff" stroke="#70d040" stroke-width="0.7"/>
<circle cx="159.68" cy="267.23" r="1.85" fill="#fff" stroke="#70d040" stroke-width="0.7"/>
<circle cx="182.88" cy="270.23" r="1.85" fill="#fff" stroke="#70d040" stroke-width="0.7"/>
<circle cx="208.05" cy="266.89" r="1.85" fill="#fff" stroke="#70d040" stroke-width="0.7"/>
<circle cx="232.86" cy="266.89" r="1.85" fill="#fff" stroke="#70d040" stroke-width="0.7"/>
<path d="M31.33 212.34C39.99 220.95 70.81 252.59 83.28 264C95.74 275.41 96.04 277.47 106.12 280.81C116.21 284.15 134.86 284.69 143.79 284.04C152.71 283.39 153.16 278.66 159.68 276.91C166.19 275.17 174.82 273.04 182.88 273.57C190.94 274.11 199.72 282 208.05 280.14C216.38 278.29 228.72 265.39 232.86 262.44" stroke="#c00000" stroke-width="1.1" fill="none" stroke-linejoin="round"/>
<circle cx="31.33" cy="212.34" r="2.05" fill="#c00000"/>
<circle cx="83.28" cy="264" r="2.05" fill="#c00000"/>
<circle cx="106.12" cy="280.81" r="2.05" fill="#c00000"/>
<circle cx="143.79" cy="284.04" r="2.05" fill="#c00000"/>
<circle cx="159.68" cy="276.91" r="2.05" fill="#c00000"/>
<circle cx="182.88" cy="273.57" r="2.05" fill="#c00000"/>
<circle cx="208.05" cy="280.14" r="2.05" fill="#c00000"/>
<circle cx="232.86" cy="262.44" r="2.05" fill="#c00000"/>
<path d="M31.33 211.23C39.99 221.58 70.81 261.66 83.28 273.35C95.74 285.04 96.04 280.03 106.12 281.37C116.21 282.7 134.86 282.29 143.79 281.37C152.71 280.44 153.16 278.16 159.68 275.8C166.19 273.44 174.82 269.08 182.88 267.23C190.94 265.37 199.72 265.09 208.05 264.67C216.38 264.24 228.72 264.67 232.86 264.67" stroke="#c00000" stroke-width="1.1" fill="none" stroke-dasharray="3.7 2.5 0.9 2.5"/>
<circle cx="31.33" cy="211.23" r="1.85" fill="#fff" stroke="#c00000" stroke-width="0.7"/>
<circle cx="83.28" cy="273.35" r="1.85" fill="#fff" stroke="#c00000" stroke-width="0.7"/>
<circle cx="106.12" cy="281.37" r="1.85" fill="#fff" stroke="#c00000" stroke-width="0.7"/>
<circle cx="143.79" cy="281.37" r="1.85" fill="#fff" stroke="#c00000" stroke-width="0.7"/>
<circle cx="159.68" cy="275.8" r="1.85" fill="#fff" stroke="#c00000" stroke-width="0.7"/>
<circle cx="182.88" cy="267.23" r="1.85" fill="#fff" stroke="#c00000" stroke-width="0.7"/>
<circle cx="208.05" cy="264.67" r="1.85" fill="#fff" stroke="#c00000" stroke-width="0.7"/>
<circle cx="232.86" cy="264.67" r="1.85" fill="#fff" stroke="#c00000" stroke-width="0.7"/>
<path d="M31.33 210.11C39.99 213.95 70.81 222.32 83.28 233.16C95.74 244 96.04 267.51 106.12 275.13C116.21 282.76 134.86 278.86 143.79 278.92C152.71 278.97 153.16 276.47 159.68 275.47C166.19 274.46 174.82 273.29 182.88 272.91C190.94 272.52 199.72 274.82 208.05 273.13C216.38 271.44 228.72 264.5 232.86 262.77" stroke="#ff0000" stroke-width="1.1" fill="none" stroke-linejoin="round"/>
<circle cx="31.33" cy="210.11" r="2.05" fill="#ff0000"/>
<circle cx="83.28" cy="233.16" r="2.05" fill="#ff0000"/>
<circle cx="106.12" cy="275.13" r="2.05" fill="#ff0000"/>
<circle cx="143.79" cy="278.92" r="2.05" fill="#ff0000"/>
<circle cx="159.68" cy="275.47" r="2.05" fill="#ff0000"/>
<circle cx="182.88" cy="272.91" r="2.05" fill="#ff0000"/>
<circle cx="208.05" cy="273.13" r="2.05" fill="#ff0000"/>
<circle cx="232.86" cy="262.77" r="2.05" fill="#ff0000"/>
<path d="M31.33 210.11C39.99 217.72 70.81 243.05 83.28 255.76C95.74 268.47 96.04 282.05 106.12 286.38C116.21 290.7 134.86 283 143.79 281.7C152.71 280.4 153.16 280.59 159.68 278.58C166.19 276.58 174.82 271.09 182.88 269.68C190.94 268.27 199.72 270.59 208.05 270.12C216.38 269.66 228.72 267.43 232.86 266.89" stroke="#ff0000" stroke-width="1.1" fill="none" stroke-dasharray="3.7 2.5 0.9 2.5"/>
<circle cx="31.33" cy="210.11" r="1.85" fill="#fff" stroke="#ff0000" stroke-width="0.7"/>
<circle cx="83.28" cy="255.76" r="1.85" fill="#fff" stroke="#ff0000" stroke-width="0.7"/>
<circle cx="106.12" cy="286.38" r="1.85" fill="#fff" stroke="#ff0000" stroke-width="0.7"/>
<circle cx="143.79" cy="281.7" r="1.85" fill="#fff" stroke="#ff0000" stroke-width="0.7"/>
<circle cx="159.68" cy="278.58" r="1.85" fill="#fff" stroke="#ff0000" stroke-width="0.7"/>
<circle cx="182.88" cy="269.68" r="1.85" fill="#fff" stroke="#ff0000" stroke-width="0.7"/>
<circle cx="208.05" cy="270.12" r="1.85" fill="#fff" stroke="#ff0000" stroke-width="0.7"/>
<circle cx="232.86" cy="266.89" r="1.85" fill="#fff" stroke="#ff0000" stroke-width="0.7"/>
<g stroke="#808080" stroke-width="1" fill="none">
<path d="M272.4 175.1V309"/>
<path d="M272.4 309H486.8"/>
<path d="M269.4 309H272.4"/>
<path d="M269.4 286.68H272.4"/>
<path d="M269.4 264.37H272.4"/>
<path d="M269.4 242.05H272.4"/>
<path d="M269.4 219.73H272.4"/>
<path d="M269.4 197.42H272.4"/>
<path d="M269.4 175.1H272.4"/>
<path d="M272.4 309V311.8"/>
<path d="M299.2 309V311.8"/>
<path d="M326 309V311.8"/>
<path d="M352.8 309V311.8"/>
<path d="M379.6 309V311.8"/>
<path d="M406.4 309V311.8"/>
<path d="M433.2 309V311.8"/>
<path d="M460 309V311.8"/>
<path d="M486.8 309V311.8"/>
</g>
<g font-size="8.3" fill="#000" stroke="#000" stroke-width="0.15" text-anchor="end">
<text x="263.9" y="311.7" textLength="15.25" lengthAdjust="spacingAndGlyphs">0.10</text>
<text x="263.9" y="289.38" textLength="15.25" lengthAdjust="spacingAndGlyphs">0.15</text>
<text x="263.9" y="267.07" textLength="15.25" lengthAdjust="spacingAndGlyphs">0.20</text>
<text x="263.9" y="244.75" textLength="15.25" lengthAdjust="spacingAndGlyphs">0.25</text>
<text x="263.9" y="222.43" textLength="15.25" lengthAdjust="spacingAndGlyphs">0.30</text>
<text x="263.9" y="200.12" textLength="15.25" lengthAdjust="spacingAndGlyphs">0.35</text>
<text x="263.9" y="177.8" textLength="15.25" lengthAdjust="spacingAndGlyphs">0.40</text>
</g>
<g font-size="8.3" fill="#000" stroke="#000" stroke-width="0.15" text-anchor="end">
<text transform="translate(273.2 323.1) rotate(-19)" textLength="20.8" lengthAdjust="spacingAndGlyphs">09/06</text>
<text transform="translate(300 323.1) rotate(-19)" textLength="20.8" lengthAdjust="spacingAndGlyphs">24/06</text>
<text transform="translate(326.8 323.1) rotate(-19)" textLength="20.8" lengthAdjust="spacingAndGlyphs">09/07</text>
<text transform="translate(353.6 323.1) rotate(-19)" textLength="20.8" lengthAdjust="spacingAndGlyphs">24/07</text>
<text transform="translate(380.4 323.1) rotate(-19)" textLength="20.8" lengthAdjust="spacingAndGlyphs">08/08</text>
<text transform="translate(407.2 323.1) rotate(-19)" textLength="20.8" lengthAdjust="spacingAndGlyphs">23/08</text>
<text transform="translate(434 323.1) rotate(-19)" textLength="20.8" lengthAdjust="spacingAndGlyphs">07/09</text>
<text transform="translate(460.8 323.1) rotate(-19)" textLength="20.8" lengthAdjust="spacingAndGlyphs">22/09</text>
<text transform="translate(487.6 323.1) rotate(-19)" textLength="20.8" lengthAdjust="spacingAndGlyphs">07/10</text>
</g>
<text x="390.5" y="183.6" font-size="8.4" text-anchor="middle" fill="#111" textLength="16.9" lengthAdjust="spacingAndGlyphs">Anth</text>
<text x="282.1" y="189.5" font-size="13" font-weight="bold" fill="#000">d)</text>
<path d="M277.5 246.51V249.86M275.9 223.08H279.1M275.9 249.86H279.1" stroke="#c00000" stroke-width="0.7" stroke-opacity="0.85" fill="none"/>
<path d="M277.5 246.29V246.51M277.5 226.65V246.29M277.5 223.08V226.65M277.5 216.16V223.08M275.9 216.16H279.1M275.9 246.51H279.1" stroke="#ff0000" stroke-width="0.7" stroke-opacity="0.85" fill="none"/>
<path d="M275.9 223.08H279.1M275.9 249.86H279.1" stroke="#00a050" stroke-width="0.7" stroke-opacity="0.85" fill="none"/>
<path d="M275.9 226.65H279.1M275.9 246.29H279.1" stroke="#70d040" stroke-width="0.7" stroke-opacity="0.85" fill="none"/>
<path d="M352.5 297.84V298.73M350.9 280.88H354.1M350.9 298.73H354.1M350.9 263.47H354.1M350.9 290.25H354.1" stroke="#00a050" stroke-width="0.7" stroke-opacity="0.85" fill="none"/>
<path d="M352.5 296.28V297.84M352.5 291.15V296.28M350.9 279.99H354.1M350.9 297.84H354.1M350.9 273.96H354.1M350.9 296.28H354.1" stroke="#c00000" stroke-width="0.7" stroke-opacity="0.85" fill="none"/>
<path d="M352.5 290.25V291.15M352.5 288.47V290.25M352.5 287.8V288.47M352.5 280.88V287.8M352.5 279.99V280.88M352.5 273.96V279.99M352.5 271.64V273.96M352.5 270.62V271.64M352.5 264.37V270.62M350.9 270.62H354.1M350.9 288.47H354.1M350.9 264.37H354.1M350.9 291.15H354.1" stroke="#ff0000" stroke-width="0.7" stroke-opacity="0.85" fill="none"/>
<path d="M352.5 263.47V264.37M352.5 263.21V263.47M352.5 261.02V263.21M352.5 253.79V261.02M352.5 243.57V253.79M350.9 253.79H354.1M350.9 271.64H354.1M350.9 243.57H354.1M350.9 263.21H354.1" stroke="#303030" stroke-width="0.8" stroke-opacity="0.85" fill="none"/>
<path d="M350.9 263.47H354.1M350.9 290.25H354.1M350.9 261.02H354.1M350.9 287.8H354.1" stroke="#70d040" stroke-width="0.7" stroke-opacity="0.85" fill="none"/>
<path d="M390.5 294.9V299.63M390.5 292.49V294.9M390.5 289.81V292.49M390.5 283.2V289.81M390.5 282.67V283.2M390.5 281.86V282.67M390.5 280.88V281.86M390.5 271.28V280.88M390.5 271.24V271.28M390.5 268.12V271.24M390.5 265.71V268.12M390.5 256.42V265.71M390.5 254.1V256.42M390.5 246.96V254.1M390.5 244.5V246.96M390.5 235.53V244.5M390.5 234.28V235.53M390.5 228.3V234.28M388.9 280.88H392.1M388.9 299.63H392.1M388.9 228.3H392.1M388.9 281.86H392.1" stroke="#ff0000" stroke-width="0.7" stroke-opacity="0.85" fill="none"/>
<path d="M390.5 209.29V228.3M388.9 244.5H392.1M388.9 271.28H392.1M388.9 209.29H392.1M388.9 234.28H392.1" stroke="#303030" stroke-width="0.8" stroke-opacity="0.85" fill="none"/>
<path d="M388.9 268.12H392.1M388.9 294.9H392.1M388.9 254.1H392.1M388.9 289.81H392.1" stroke="#00a050" stroke-width="0.7" stroke-opacity="0.85" fill="none"/>
<path d="M388.9 256.42H392.1M388.9 283.2H392.1M388.9 235.53H392.1M388.9 271.24H392.1" stroke="#70d040" stroke-width="0.7" stroke-opacity="0.85" fill="none"/>
<path d="M388.9 265.71H392.1M388.9 292.49H392.1M388.9 246.96H392.1M388.9 282.67H392.1" stroke="#c00000" stroke-width="0.7" stroke-opacity="0.85" fill="none"/>
<path d="M406.5 296.19V297.4M404.9 282.22H408.1M404.9 297.4H408.1M404.9 256.33H408.1M404.9 292.04H408.1" stroke="#00a050" stroke-width="0.7" stroke-opacity="0.85" fill="none"/>
<path d="M406.5 292.04V296.19M406.5 289.81V292.04M406.5 288.56V289.81M406.5 282.22V288.56M406.5 279.1V282.22M406.5 278.34V279.1M406.5 270.62V274.63M406.5 269.41V270.62M406.5 261.78V269.41M406.5 256.33V261.78M406.5 254.1V256.33M406.5 246.87V254.1M406.5 243.84V246.87M406.5 243.39V243.84M406.5 230V243.39M404.9 278.34H408.1M404.9 296.19H408.1M404.9 230H408.1M404.9 274.63H408.1" stroke="#ff0000" stroke-width="0.7" stroke-opacity="0.85" fill="none"/>
<path d="M406.5 274.63V278.34M404.9 269.41H408.1M404.9 296.19H408.1M404.9 254.1H408.1M404.9 289.81H408.1" stroke="#c00000" stroke-width="0.7" stroke-opacity="0.85" fill="none"/>
<path d="M406.5 204.92V230M404.9 243.84H408.1M404.9 270.62H408.1M404.9 204.92H408.1M404.9 246.87H408.1" stroke="#303030" stroke-width="0.8" stroke-opacity="0.85" fill="none"/>
<path d="M404.9 261.78H408.1M404.9 288.56H408.1M404.9 243.39H408.1M404.9 279.1H408.1" stroke="#70d040" stroke-width="0.7" stroke-opacity="0.85" fill="none"/>
<path d="M429.5 287.31V287.58M429.5 285.08V287.31M429.5 278.47V285.08M429.5 277.98V278.47M429.5 276.15V277.98M429.5 270.35V276.15M429.5 269.28V270.35M429.5 267.67V269.28M429.5 261.47V267.67M429.5 260.8V261.47M429.5 258.3V260.8M429.5 251.2V258.3M429.5 246.07V251.2M429.5 242.76V246.07M429.5 240.44V242.76M429.5 233.57V240.44M429.5 225.76V233.57M429.5 214.11V225.76M427.9 260.8H431.1M427.9 287.58H431.1M427.9 214.11H431.1M427.9 267.67H431.1" stroke="#ff0000" stroke-width="0.7" stroke-opacity="0.85" fill="none"/>
<path d="M429.5 185.37V214.11M427.9 225.76H431.1M427.9 261.47H431.1M427.9 185.37H431.1M427.9 246.07H431.1" stroke="#303030" stroke-width="0.8" stroke-opacity="0.85" fill="none"/>
<path d="M427.9 270.35H431.1M427.9 287.31H431.1M427.9 240.44H431.1M427.9 276.15H431.1" stroke="#00a050" stroke-width="0.7" stroke-opacity="0.85" fill="none"/>
<path d="M427.9 251.2H431.1M427.9 277.98H431.1M427.9 233.57H431.1M427.9 269.28H431.1" stroke="#70d040" stroke-width="0.7" stroke-opacity="0.85" fill="none"/>
<path d="M427.9 258.3H431.1M427.9 285.08H431.1M427.9 242.76H431.1M427.9 278.47H431.1" stroke="#c00000" stroke-width="0.7" stroke-opacity="0.85" fill="none"/>
<path d="M454.5 278.2V279.36M452.9 252.58H456.1M452.9 279.36H456.1M452.9 221.74H456.1M452.9 266.38H456.1" stroke="#c00000" stroke-width="0.7" stroke-opacity="0.85" fill="none"/>
<path d="M454.5 277.76V278.2M454.5 272.49V277.76M454.5 270.21V272.49M454.5 268.96V270.21M454.5 266.38V268.96M454.5 266.38V266.38M454.5 260.35V266.38M454.5 252.58V260.35M454.5 251.42V252.58M454.5 250.98V251.42M454.5 245.71V250.98M454.5 235.04V245.71M454.5 234.51V235.04M454.5 230.67V234.51M454.5 221.74V230.67M454.5 215.4V221.74M452.9 260.35H456.1M452.9 278.2H456.1M452.9 215.4H456.1M452.9 268.96H456.1" stroke="#ff0000" stroke-width="0.7" stroke-opacity="0.85" fill="none"/>
<path d="M454.5 199.34V215.4M454.5 192.51V199.34M452.9 199.34H456.1M452.9 235.04H456.1M452.9 192.51H456.1M452.9 251.42H456.1" stroke="#303030" stroke-width="0.8" stroke-opacity="0.85" fill="none"/>
<path d="M452.9 250.98H456.1M452.9 277.76H456.1M452.9 234.51H456.1M452.9 270.21H456.1" stroke="#00a050" stroke-width="0.7" stroke-opacity="0.85" fill="none"/>
<path d="M452.9 245.71H456.1M452.9 272.49H456.1M452.9 230.67H456.1M452.9 266.38H456.1" stroke="#70d040" stroke-width="0.7" stroke-opacity="0.85" fill="none"/>
<path d="M479.5 291.86V291.91M479.5 291.01V291.86M479.5 280.79V291.01M479.5 274.19V280.79M479.5 272.4V274.19M479.5 271.87V272.4M479.5 271.73V271.87M479.5 264.23V271.73M479.5 229.55V264.23M479.5 227.86V229.55M479.5 227.77V227.86M479.5 227.1V227.77M479.5 222.55V227.1M479.5 220.45V222.55M479.5 218.31V220.45M479.5 202.24V218.31M477.9 264.23H481.1M477.9 291.91H481.1M477.9 202.24H481.1M477.9 280.79H481.1" stroke="#ff0000" stroke-width="0.7" stroke-opacity="0.85" fill="none"/>
<path d="M479.5 195.72V202.24M479.5 192.19V195.72M477.9 192.19H481.1M477.9 222.55H481.1M477.9 195.72H481.1M477.9 227.86H481.1" stroke="#303030" stroke-width="0.8" stroke-opacity="0.85" fill="none"/>
<path d="M479.5 183.89V192.19M477.9 183.89H481.1M477.9 291.01H481.1M477.9 227.77H481.1M477.9 272.4H481.1" stroke="#00a050" stroke-width="0.7" stroke-opacity="0.85" fill="none"/>
<path d="M477.9 227.1H481.1M477.9 271.73H481.1M477.9 229.55H481.1M477.9 274.19H481.1" stroke="#70d040" stroke-width="0.7" stroke-opacity="0.85" fill="none"/>
<path d="M477.9 218.31H481.1M477.9 271.87H481.1M477.9 220.45H481.1M477.9 291.86H481.1" stroke="#c00000" stroke-width="0.7" stroke-opacity="0.85" fill="none"/>
<path d="M352.8 262.72C359.08 261.91 381.57 258.81 390.5 257.89C399.43 256.98 399.88 259.61 406.4 257.23C412.92 254.84 421.56 250.28 429.63 243.61C437.7 236.94 446.48 223.23 454.82 217.19C463.16 211.15 475.51 209.01 479.65 207.37" stroke="#000000" stroke-width="1.1" fill="none" stroke-linejoin="round"/>
<circle cx="352.8" cy="262.72" r="2.05" fill="#000000"/>
<circle cx="390.5" cy="257.89" r="2.05" fill="#000000"/>
<circle cx="406.4" cy="257.23" r="2.05" fill="#000000"/>
<circle cx="429.63" cy="243.61" r="2.05" fill="#000000"/>
<circle cx="454.82" cy="217.19" r="2.05" fill="#000000"/>
<circle cx="479.65" cy="207.37" r="2.05" fill="#000000"/>
<path d="M352.8 253.39C359.08 248.12 381.57 226.37 390.5 221.79C399.43 217.2 399.88 226.9 406.4 225.89C412.92 224.88 421.56 216.37 429.63 215.72C437.7 215.06 446.48 222.62 454.82 221.97C463.16 221.31 475.51 213.48 479.65 211.79" stroke="#000000" stroke-width="1.1" fill="none" stroke-dasharray="3.7 2.5 0.9 2.5"/>
<circle cx="352.8" cy="253.39" r="1.85" fill="#fff" stroke="#000000" stroke-width="0.7"/>
<circle cx="390.5" cy="221.79" r="1.85" fill="#fff" stroke="#000000" stroke-width="0.7"/>
<circle cx="406.4" cy="225.89" r="1.85" fill="#fff" stroke="#000000" stroke-width="0.7"/>
<circle cx="429.63" cy="215.72" r="1.85" fill="#fff" stroke="#000000" stroke-width="0.7"/>
<circle cx="454.82" cy="221.97" r="1.85" fill="#fff" stroke="#000000" stroke-width="0.7"/>
<circle cx="479.65" cy="211.79" r="1.85" fill="#fff" stroke="#000000" stroke-width="0.7"/>
<path d="M352.8 289.81C359.08 288.42 381.57 281.51 390.5 281.51C399.43 281.51 399.88 290.25 406.4 289.81C412.92 289.36 421.56 283.07 429.63 278.83C437.7 274.59 446.48 271.26 454.82 264.37C463.16 257.47 475.51 241.94 479.65 237.45" stroke="#00a050" stroke-width="1.1" fill="none" stroke-linejoin="round"/>
<circle cx="352.8" cy="289.81" r="2.05" fill="#00a050"/>
<circle cx="390.5" cy="281.51" r="2.05" fill="#00a050"/>
<circle cx="406.4" cy="289.81" r="2.05" fill="#00a050"/>
<circle cx="429.63" cy="278.83" r="2.05" fill="#00a050"/>
<circle cx="454.82" cy="264.37" r="2.05" fill="#00a050"/>
<circle cx="479.65" cy="237.45" r="2.05" fill="#00a050"/>
<path d="M352.8 276.86C359.08 276.05 381.57 272.4 390.5 271.95C399.43 271.51 399.88 276.46 406.4 274.19C412.92 271.91 421.56 261.93 429.63 258.3C437.7 254.66 446.48 253.73 454.82 252.36C463.16 250.99 475.51 250.46 479.65 250.08" stroke="#00a050" stroke-width="1.1" fill="none" stroke-dasharray="3.7 2.5 0.9 2.5"/>
<circle cx="277.94" cy="236.47" r="1.85" fill="#fff" stroke="#00a050" stroke-width="0.7"/>
<circle cx="352.8" cy="276.86" r="1.85" fill="#fff" stroke="#00a050" stroke-width="0.7"/>
<circle cx="390.5" cy="271.95" r="1.85" fill="#fff" stroke="#00a050" stroke-width="0.7"/>
<circle cx="406.4" cy="274.19" r="1.85" fill="#fff" stroke="#00a050" stroke-width="0.7"/>
<circle cx="429.63" cy="258.3" r="1.85" fill="#fff" stroke="#00a050" stroke-width="0.7"/>
<circle cx="454.82" cy="252.36" r="1.85" fill="#fff" stroke="#00a050" stroke-width="0.7"/>
<circle cx="479.65" cy="250.08" r="1.85" fill="#fff" stroke="#00a050" stroke-width="0.7"/>
<path d="M352.8 276.86C359.08 275.69 381.57 270.09 390.5 269.81C399.43 269.53 399.88 276.04 406.4 275.17C412.92 274.3 421.56 267.27 429.63 264.59C437.7 261.91 446.48 261.63 454.82 259.1C463.16 256.57 475.51 251.03 479.65 249.41" stroke="#70d040" stroke-width="1.1" fill="none" stroke-linejoin="round"/>
<circle cx="352.8" cy="276.86" r="2.05" fill="#70d040"/>
<circle cx="390.5" cy="269.81" r="2.05" fill="#70d040"/>
<circle cx="406.4" cy="275.17" r="2.05" fill="#70d040"/>
<circle cx="429.63" cy="264.59" r="2.05" fill="#70d040"/>
<circle cx="454.82" cy="259.1" r="2.05" fill="#70d040"/>
<circle cx="479.65" cy="249.41" r="2.05" fill="#70d040"/>
<path d="M352.8 274.41C359.08 270.91 381.57 255.58 390.5 253.39C399.43 251.19 399.88 261.57 406.4 261.24C412.92 260.92 421.56 253.54 429.63 251.42C437.7 249.3 446.48 248.45 454.82 248.52C463.16 248.6 475.51 251.31 479.65 251.87" stroke="#70d040" stroke-width="1.1" fill="none" stroke-dasharray="3.7 2.5 0.9 2.5"/>
<circle cx="277.94" cy="236.47" r="1.85" fill="#fff" stroke="#70d040" stroke-width="0.7"/>
<circle cx="352.8" cy="274.41" r="1.85" fill="#fff" stroke="#70d040" stroke-width="0.7"/>
<circle cx="390.5" cy="253.39" r="1.85" fill="#fff" stroke="#70d040" stroke-width="0.7"/>
<circle cx="406.4" cy="261.24" r="1.85" fill="#fff" stroke="#70d040" stroke-width="0.7"/>
<circle cx="429.63" cy="251.42" r="1.85" fill="#fff" stroke="#70d040" stroke-width="0.7"/>
<circle cx="454.82" cy="248.52" r="1.85" fill="#fff" stroke="#70d040" stroke-width="0.7"/>
<circle cx="479.65" cy="251.87" r="1.85" fill="#fff" stroke="#70d040" stroke-width="0.7"/>
<path d="M352.8 288.92C359.08 287.28 381.57 280.11 390.5 279.1C399.43 278.08 399.88 284.04 406.4 282.8C412.92 281.57 421.56 274.49 429.63 271.69C437.7 268.88 446.48 270.41 454.82 265.97C463.16 261.54 475.51 248.57 479.65 245.09" stroke="#c00000" stroke-width="1.1" fill="none" stroke-linejoin="round"/>
<circle cx="352.8" cy="288.92" r="2.05" fill="#c00000"/>
<circle cx="390.5" cy="279.1" r="2.05" fill="#c00000"/>
<circle cx="406.4" cy="282.8" r="2.05" fill="#c00000"/>
<circle cx="429.63" cy="271.69" r="2.05" fill="#c00000"/>
<circle cx="454.82" cy="265.97" r="2.05" fill="#c00000"/>
<circle cx="479.65" cy="245.09" r="2.05" fill="#c00000"/>
<path d="M352.8 285.12C359.08 281.74 381.57 267.01 390.5 264.81C399.43 262.62 399.88 272.65 406.4 271.95C412.92 271.26 421.56 265.27 429.63 260.62C437.7 255.97 446.48 244.8 454.82 244.06C463.16 243.31 475.51 254.14 479.65 256.15" stroke="#c00000" stroke-width="1.1" fill="none" stroke-dasharray="3.7 2.5 0.9 2.5"/>
<circle cx="277.94" cy="236.47" r="1.85" fill="#fff" stroke="#c00000" stroke-width="0.7"/>
<circle cx="352.8" cy="285.12" r="1.85" fill="#fff" stroke="#c00000" stroke-width="0.7"/>
<circle cx="390.5" cy="264.81" r="1.85" fill="#fff" stroke="#c00000" stroke-width="0.7"/>
<circle cx="406.4" cy="271.95" r="1.85" fill="#fff" stroke="#c00000" stroke-width="0.7"/>
<circle cx="429.63" cy="260.62" r="1.85" fill="#fff" stroke="#c00000" stroke-width="0.7"/>
<circle cx="454.82" cy="244.06" r="1.85" fill="#fff" stroke="#c00000" stroke-width="0.7"/>
<circle cx="479.65" cy="256.15" r="1.85" fill="#fff" stroke="#c00000" stroke-width="0.7"/>
<path d="M352.8 279.54C359.08 281.33 381.57 288.97 390.5 290.25C399.43 291.54 399.88 289.94 406.4 287.26C412.92 284.59 421.56 277.18 429.63 274.19C437.7 271.19 446.48 268.63 454.82 269.28C463.16 269.92 475.51 276.6 479.65 278.07" stroke="#ff0000" stroke-width="1.1" fill="none" stroke-linejoin="round"/>
<circle cx="352.8" cy="279.54" r="2.05" fill="#ff0000"/>
<circle cx="390.5" cy="290.25" r="2.05" fill="#ff0000"/>
<circle cx="406.4" cy="287.26" r="2.05" fill="#ff0000"/>
<circle cx="429.63" cy="274.19" r="2.05" fill="#ff0000"/>
<circle cx="454.82" cy="269.28" r="2.05" fill="#ff0000"/>
<circle cx="479.65" cy="278.07" r="2.05" fill="#ff0000"/>
<path d="M352.8 277.76C359.08 273.98 381.57 259.32 390.5 255.08C399.43 250.84 399.88 254.68 406.4 252.32C412.92 249.95 421.56 242.58 429.63 240.89C437.7 239.2 446.48 242.08 454.82 242.18C463.16 242.29 475.51 241.63 479.65 241.51" stroke="#ff0000" stroke-width="1.1" fill="none" stroke-dasharray="3.7 2.5 0.9 2.5"/>
<circle cx="277.94" cy="231.34" r="1.85" fill="#fff" stroke="#ff0000" stroke-width="0.7"/>
<circle cx="352.8" cy="277.76" r="1.85" fill="#fff" stroke="#ff0000" stroke-width="0.7"/>
<circle cx="390.5" cy="255.08" r="1.85" fill="#fff" stroke="#ff0000" stroke-width="0.7"/>
<circle cx="406.4" cy="252.32" r="1.85" fill="#fff" stroke="#ff0000" stroke-width="0.7"/>
<circle cx="429.63" cy="240.89" r="1.85" fill="#fff" stroke="#ff0000" stroke-width="0.7"/>
<circle cx="454.82" cy="242.18" r="1.85" fill="#fff" stroke="#ff0000" stroke-width="0.7"/>
<circle cx="479.65" cy="241.51" r="1.85" fill="#fff" stroke="#ff0000" stroke-width="0.7"/>
<path d="M496 89.3H512.4" stroke="#000000" stroke-width="1.25"/>
<circle cx="504" cy="89.3" r="1.9" fill="#000000"/>
<text x="514.2" y="91.3" font-size="5.9" fill="#222" textLength="20.5" lengthAdjust="spacingAndGlyphs">C_100%</text>
<path d="M496 104.43H512.4" stroke="#000000" stroke-width="0.9" stroke-dasharray="3.7 2.5 0.9 2.5"/>
<circle cx="504" cy="104.43" r="1.75" fill="#fff" stroke="#000000" stroke-width="0.6"/>
<text x="514.2" y="106.43" font-size="5.9" fill="#222" textLength="17.5" lengthAdjust="spacingAndGlyphs">C_75%</text>
<path d="M496 119.56H512.4" stroke="#00a050" stroke-width="1.25"/>
<circle cx="504" cy="119.56" r="1.9" fill="#00a050"/>
<text x="514.2" y="121.56" font-size="5.9" fill="#222" textLength="31.4" lengthAdjust="spacingAndGlyphs">In/1d_100%</text>
<path d="M496 134.69H512.4" stroke="#00a050" stroke-width="0.9" stroke-dasharray="3.7 2.5 0.9 2.5"/>
<circle cx="504" cy="134.69" r="1.75" fill="#fff" stroke="#00a050" stroke-width="0.6"/>
<text x="514.2" y="136.69" font-size="5.9" fill="#222" textLength="28.3" lengthAdjust="spacingAndGlyphs">In/1d_75%</text>
<path d="M496 149.82H512.4" stroke="#70d040" stroke-width="1.25"/>
<circle cx="504" cy="149.82" r="1.9" fill="#70d040"/>
<text x="514.2" y="151.82" font-size="5.9" fill="#222" textLength="31.4" lengthAdjust="spacingAndGlyphs">In/2d_100%</text>
<path d="M496 164.95H512.4" stroke="#70d040" stroke-width="0.9" stroke-dasharray="3.7 2.5 0.9 2.5"/>
<circle cx="504" cy="164.95" r="1.75" fill="#fff" stroke="#70d040" stroke-width="0.6"/>
<text x="514.2" y="166.95" font-size="5.9" fill="#222" textLength="28.3" lengthAdjust="spacingAndGlyphs">In/2d_75%</text>
<path d="M496 180.08H512.4" stroke="#c00000" stroke-width="1.25"/>
<circle cx="504" cy="180.08" r="1.9" fill="#c00000"/>
<text x="514.2" y="182.08" font-size="5.9" fill="#222" textLength="30.3" lengthAdjust="spacingAndGlyphs">U/1d_100%</text>
<path d="M496 195.21H512.4" stroke="#c00000" stroke-width="0.9" stroke-dasharray="3.7 2.5 0.9 2.5"/>
<circle cx="504" cy="195.21" r="1.75" fill="#fff" stroke="#c00000" stroke-width="0.6"/>
<text x="514.2" y="197.21" font-size="5.9" fill="#222" textLength="27.2" lengthAdjust="spacingAndGlyphs">U/1d_75%</text>
<path d="M496 210.34H512.4" stroke="#ff0000" stroke-width="1.25"/>
<circle cx="504" cy="210.34" r="1.9" fill="#ff0000"/>
<text x="514.2" y="212.34" font-size="5.9" fill="#222" textLength="30.3" lengthAdjust="spacingAndGlyphs">U/2d_100%</text>
<path d="M496 225.47H512.4" stroke="#ff0000" stroke-width="0.9" stroke-dasharray="3.7 2.5 0.9 2.5"/>
<circle cx="504" cy="225.47" r="1.75" fill="#fff" stroke="#ff0000" stroke-width="0.6"/>
<text x="514.2" y="227.47" font-size="5.9" fill="#222" textLength="27.2" lengthAdjust="spacingAndGlyphs">U/2d_75%</text>
</svg>
</body></html>
